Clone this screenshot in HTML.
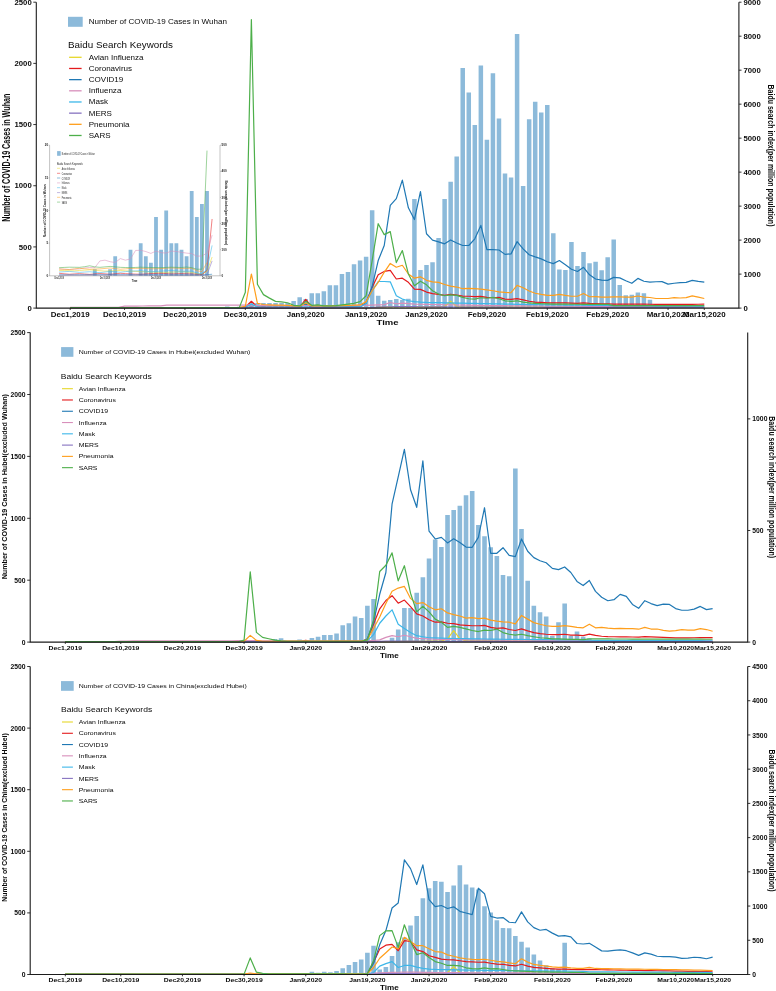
<!DOCTYPE html>
<html lang="en"><head><meta charset="utf-8"><title>Baidu search index and COVID-19 cases</title>
<style>
html,body{margin:0;padding:0;background:#fff;}
body{width:776px;height:991px;overflow:hidden;}
svg{display:block;font-family:"Liberation Sans",Arial,sans-serif;}
</style></head><body>
<svg width="776" height="991" viewBox="0 0 776 991">
<rect width="776" height="991" fill="#fff"/>
<path d="M110.22 308.10v-0.12h4.50v0.12zM128.34 308.10v-0.12h4.50v0.12zM134.38 308.10v-0.37h4.50v0.37zM152.50 308.10v-0.49h4.50v0.49zM164.57 308.10v-0.61h4.50v0.61zM170.61 308.10v-0.37h4.50v0.37zM176.65 308.10v-0.24h4.50v0.24zM182.69 308.10v-1.10h4.50v1.10zM188.73 308.10v-0.49h4.50v0.49zM194.77 308.10v-1.22h4.50v1.22zM200.81 308.10v-0.61h4.50v0.61zM206.85 308.10v-0.61h4.50v0.61zM212.89 308.10v-0.49h4.50v0.49zM218.93 308.10v-0.37h4.50v0.37zM224.96 308.10v-1.59h4.50v1.59zM231.00 308.10v-1.10h4.50v1.10zM237.04 308.10v-1.35h4.50v1.35zM243.08 308.10v-1.59h4.50v1.59zM249.12 308.10v-5.00h4.50v5.00zM255.16 308.10v-5.10h4.50v5.10zM261.20 308.10v-5.10h4.50v5.10zM267.24 308.10v-5.10h4.50v5.10zM273.28 308.10v-5.10h4.50v5.10zM279.31 308.10v-5.10h4.50v5.10zM285.35 308.10v-5.10h4.50v5.10zM291.39 308.10v-7.10h4.50v7.10zM297.43 308.10v-10.90h4.50v10.90zM303.47 308.10v-9.00h4.50v9.00zM309.51 308.10v-14.80h4.50v14.80zM315.55 308.10v-14.80h4.50v14.80zM321.59 308.10v-16.90h4.50v16.90zM327.63 308.10v-22.80h4.50v22.80zM333.67 308.10v-22.80h4.50v22.80zM339.70 308.10v-34.20h4.50v34.20zM345.74 308.10v-36.00h4.50v36.00zM351.78 308.10v-43.90h4.50v43.90zM357.82 308.10v-47.60h4.50v47.60zM363.86 308.10v-51.40h4.50v51.40zM369.90 308.10v-97.80h4.50v97.80zM375.94 308.10v-12.30h4.50v12.30zM381.98 308.10v-7.30h4.50v7.30zM388.02 308.10v-8.20h4.50v8.20zM394.06 308.10v-9.00h4.50v9.00zM400.09 308.10v-8.00h4.50v8.00zM406.13 308.10v-9.30h4.50v9.30zM412.17 308.10v-109.00h4.50v109.00zM418.21 308.10v-38.10h4.50v38.10zM424.25 308.10v-43.20h4.50v43.20zM430.29 308.10v-45.90h4.50v45.90zM436.33 308.10v-70.10h4.50v70.10zM442.37 308.10v-109.00h4.50v109.00zM448.41 308.10v-126.30h4.50v126.30zM454.45 308.10v-151.70h4.50v151.70zM460.48 308.10v-240.00h4.50v240.00zM466.52 308.10v-215.70h4.50v215.70zM472.56 308.10v-183.10h4.50v183.10zM478.60 308.10v-242.50h4.50v242.50zM484.64 308.10v-168.30h4.50v168.30zM490.68 308.10v-234.80h4.50v234.80zM496.72 308.10v-189.60h4.50v189.60zM502.76 308.10v-134.70h4.50v134.70zM508.80 308.10v-130.70h4.50v130.70zM514.84 308.10v-274.20h4.50v274.20zM520.88 308.10v-122.10h4.50v122.10zM526.91 308.10v-188.90h4.50v188.90zM532.95 308.10v-206.30h4.50v206.30zM538.99 308.10v-195.50h4.50v195.50zM545.03 308.10v-203.00h4.50v203.00zM551.07 308.10v-74.80h4.50v74.80zM557.11 308.10v-38.60h4.50v38.60zM563.15 308.10v-38.00h4.50v38.00zM569.19 308.10v-66.00h4.50v66.00zM575.23 308.10v-42.20h4.50v42.20zM581.26 308.10v-56.20h4.50v56.20zM587.30 308.10v-44.80h4.50v44.80zM593.34 308.10v-46.30h4.50v46.30zM599.38 308.10v-37.90h4.50v37.90zM605.42 308.10v-50.90h4.50v50.90zM611.46 308.10v-68.70h4.50v68.70zM617.50 308.10v-23.00h4.50v23.00zM623.54 308.10v-12.90h4.50v12.90zM629.58 308.10v-13.30h4.50v13.30zM635.62 308.10v-15.50h4.50v15.50zM641.65 308.10v-14.80h4.50v14.80zM647.69 308.10v-8.40h4.50v8.40zM653.73 308.10v-4.20h4.50v4.20zM659.77 308.10v-2.60h4.50v2.60z" fill="#8CBADA"/>
<polyline points="70.20,307.70 76.24,307.70 82.28,307.70 88.32,307.70 94.36,307.70 100.40,307.70 106.43,307.70 112.47,307.70 118.51,307.70 124.55,307.70 130.59,307.70 136.63,307.70 142.67,307.70 148.71,307.70 154.75,307.70 160.78,307.70 166.82,307.70 172.86,307.70 178.90,307.70 184.94,307.70 190.98,307.70 197.02,307.70 203.06,307.70 209.10,307.70 215.14,307.70 221.18,307.70 227.21,307.70 233.25,307.70 239.29,307.70 245.33,307.70 251.37,307.20 257.41,307.70 263.45,307.69 269.49,307.69 275.53,307.68 281.56,307.68 287.60,307.67 293.64,307.67 299.68,307.66 305.72,307.66 311.76,307.65 317.80,307.65 323.84,307.64 329.88,307.64 335.92,307.63 341.95,307.63 347.99,307.62 354.03,307.62 360.07,307.61 366.11,307.61 372.15,307.60 378.19,307.37 384.23,307.13 390.27,306.90 396.31,306.90 402.34,306.90 408.38,306.90 414.42,306.90 420.46,306.90 426.50,306.90 432.54,306.90 438.58,306.90 444.62,306.50 450.66,301.28 456.70,306.50 462.73,307.00 468.77,307.01 474.81,307.02 480.85,307.02 486.89,307.03 492.93,307.04 498.97,307.05 505.01,307.05 511.05,307.06 517.09,307.07 523.12,307.08 529.16,307.08 535.20,307.09 541.24,307.10 547.28,307.11 553.32,307.11 559.36,307.12 565.40,307.13 571.44,307.14 577.48,307.14 583.51,307.15 589.55,307.16 595.59,307.17 601.63,307.17 607.67,307.18 613.71,307.19 619.75,307.20 625.79,307.20 631.83,307.21 637.87,307.22 643.90,307.23 649.94,307.23 655.98,307.24 662.02,307.25 668.06,307.25 674.10,307.26 680.14,307.27 686.18,307.28 692.22,307.29 698.26,307.29 704.29,307.30" fill="none" stroke="#E6D72A" stroke-width="1.2" stroke-linejoin="round"/>
<polyline points="70.20,307.80 76.24,307.80 82.28,307.79 88.32,307.79 94.36,307.79 100.40,307.78 106.43,307.78 112.47,307.78 118.51,307.77 124.55,307.77 130.59,307.76 136.63,307.76 142.67,307.76 148.71,307.75 154.75,307.75 160.78,307.75 166.82,307.74 172.86,307.74 178.90,307.74 184.94,307.73 190.98,307.73 197.02,307.73 203.06,307.72 209.10,307.72 215.14,307.71 221.18,307.71 227.21,307.71 233.25,307.70 239.29,307.70 245.33,307.17 251.37,301.26 257.41,306.94 263.45,306.97 269.49,307.01 275.53,307.04 281.56,307.07 287.60,307.11 293.64,307.14 299.68,307.17 305.72,299.28 311.76,306.94 317.80,307.10 323.84,307.01 329.88,306.93 335.92,306.84 341.95,306.76 347.99,306.67 354.03,306.59 360.07,306.50 366.11,302.45 372.15,287.38 378.19,274.81 384.23,271.46 390.27,270.29 396.31,279.00 402.34,278.16 408.38,282.35 414.42,289.05 420.46,289.39 426.50,292.07 432.54,293.57 438.58,294.41 444.62,295.42 450.66,294.41 456.70,295.08 462.73,296.09 468.77,296.26 474.81,296.59 480.85,296.42 486.89,297.43 492.93,297.76 498.97,297.43 505.01,299.10 511.05,299.44 517.09,298.60 523.12,299.94 529.16,301.28 535.20,302.12 541.24,302.45 547.28,302.79 553.32,302.96 559.36,302.79 565.40,302.96 571.44,303.12 577.48,303.29 583.51,302.79 589.55,303.46 595.59,303.63 601.63,303.79 607.67,303.79 613.71,304.05 619.75,304.08 625.79,304.11 631.83,304.15 637.87,304.18 643.90,304.21 649.94,304.25 655.98,304.28 662.02,304.31 668.06,304.35 674.10,304.38 680.14,304.35 686.18,304.31 692.22,304.28 698.26,304.25 704.29,304.21" fill="none" stroke="#E41A1C" stroke-width="1.2" stroke-linejoin="round"/>
<polyline points="70.20,307.90 76.24,307.90 82.28,307.89 88.32,307.89 94.36,307.89 100.40,307.89 106.43,307.88 112.47,307.88 118.51,307.88 124.55,307.88 130.59,307.87 136.63,307.87 142.67,307.87 148.71,307.86 154.75,307.86 160.78,307.86 166.82,307.86 172.86,307.85 178.90,307.85 184.94,307.85 190.98,307.85 197.02,307.84 203.06,307.84 209.10,307.84 215.14,307.84 221.18,307.83 227.21,307.83 233.25,307.83 239.29,307.82 245.33,307.82 251.37,307.82 257.41,307.82 263.45,307.81 269.49,307.81 275.53,307.81 281.56,307.81 287.60,307.80 293.64,307.80 299.68,307.40 305.72,303.92 311.76,307.40 317.80,307.50 323.84,307.47 329.88,307.43 335.92,307.40 341.95,307.37 347.99,307.33 354.03,307.30 360.07,306.60 366.11,303.29 372.15,286.54 378.19,260.57 384.23,245.49 390.27,205.29 396.31,198.58 402.34,180.16 408.38,207.80 414.42,219.53 420.46,191.55 426.50,233.77 432.54,240.13 438.58,241.81 444.62,243.82 450.66,239.96 456.70,242.98 462.73,245.49 468.77,245.49 474.81,238.79 480.85,225.39 486.89,249.68 492.93,249.68 498.97,250.02 505.01,254.37 511.05,253.87 517.09,241.64 523.12,248.84 529.16,254.71 535.20,256.89 541.24,258.90 547.28,261.74 553.32,263.59 559.36,260.57 565.40,264.76 571.44,269.28 577.48,271.46 583.51,267.27 589.55,274.81 595.59,279.00 601.63,280.17 607.67,280.34 613.71,277.41 619.75,277.91 625.79,280.76 631.83,283.27 637.87,278.41 643.90,281.26 649.94,282.10 655.98,281.76 662.02,281.60 668.06,284.11 674.10,283.27 680.14,282.60 686.18,282.43 692.22,280.42 698.26,281.43 704.29,282.10" fill="none" stroke="#1F78B4" stroke-width="1.2" stroke-linejoin="round"/>
<polyline points="70.20,307.40 76.24,307.39 82.28,307.38 88.32,307.36 94.36,307.35 100.40,307.34 106.43,307.33 112.47,307.31 118.51,307.30 124.55,306.10 130.59,306.07 136.63,306.03 142.67,306.00 148.71,305.97 154.75,305.93 160.78,305.90 166.82,305.10 172.86,305.10 178.90,305.10 184.94,305.10 190.98,305.10 197.02,305.10 203.06,305.10 209.10,305.10 215.14,305.10 221.18,305.10 227.21,305.10 233.25,305.10 239.29,305.10 245.33,305.10 251.37,304.90 257.41,305.60 263.45,305.60 269.49,305.60 275.53,305.60 281.56,305.60 287.60,305.60 293.64,305.60 299.68,305.60 305.72,305.60 311.76,305.60 317.80,305.60 323.84,305.60 329.88,305.60 335.92,305.60 341.95,305.60 347.99,305.60 354.03,305.60 360.07,305.60 366.11,305.30 372.15,305.07 378.19,304.83 384.23,304.60 390.27,302.50 396.31,303.90 402.34,303.10 408.38,303.70 414.42,304.10 420.46,304.23 426.50,304.37 432.54,304.50 438.58,304.62 444.62,304.74 450.66,304.86 456.70,304.98 462.73,305.10 468.77,305.20 474.81,305.30 480.85,305.40 486.89,305.50 492.93,305.60 498.97,305.65 505.01,305.70 511.05,305.75 517.09,305.80 523.12,305.85 529.16,305.90 535.20,305.95 541.24,306.00 547.28,306.05 553.32,306.10 559.36,306.14 565.40,306.18 571.44,306.22 577.48,306.26 583.51,306.30 589.55,306.34 595.59,306.38 601.63,306.42 607.67,306.46 613.71,306.50 619.75,306.51 625.79,306.53 631.83,306.54 637.87,306.55 643.90,306.57 649.94,306.58 655.98,306.59 662.02,306.61 668.06,306.62 674.10,306.63 680.14,306.65 686.18,306.66 692.22,306.67 698.26,306.69 704.29,306.70" fill="none" stroke="#D88FBB" stroke-width="1.2" stroke-linejoin="round"/>
<polyline points="70.20,307.70 76.24,307.70 82.28,307.69 88.32,307.69 94.36,307.69 100.40,307.68 106.43,307.68 112.47,307.68 118.51,307.67 124.55,307.67 130.59,307.66 136.63,307.66 142.67,307.66 148.71,307.65 154.75,307.65 160.78,307.65 166.82,307.64 172.86,307.64 178.90,307.64 184.94,307.63 190.98,307.63 197.02,307.62 203.06,307.62 209.10,307.62 215.14,307.61 221.18,307.61 227.21,307.61 233.25,307.60 239.29,307.60 245.33,307.40 251.37,304.16 257.41,306.94 263.45,307.20 269.49,307.18 275.53,307.16 281.56,307.14 287.60,307.12 293.64,307.11 299.68,307.09 305.72,307.07 311.76,307.05 317.80,307.03 323.84,307.01 329.88,306.99 335.92,306.98 341.95,306.96 347.99,306.94 354.03,306.92 360.07,306.90 366.11,303.29 372.15,290.73 378.19,281.51 384.23,281.51 390.27,281.85 396.31,295.75 402.34,299.10 408.38,300.78 414.42,301.62 420.46,302.12 426.50,302.45 432.54,302.57 438.58,302.68 444.62,302.79 450.66,302.91 456.70,303.04 462.73,303.17 468.77,303.29 474.81,303.42 480.85,303.54 486.89,303.67 492.93,303.79 498.97,303.93 505.01,304.06 511.05,304.20 517.09,304.33 523.12,304.46 529.16,304.57 535.20,304.67 541.24,304.77 547.28,304.87 553.32,304.97 559.36,305.02 565.40,305.08 571.44,305.13 577.48,305.19 583.51,305.25 589.55,305.30 595.59,305.36 601.63,305.41 607.67,305.47 613.71,305.89 619.75,305.91 625.79,305.93 631.83,305.96 637.87,305.98 643.90,306.00 649.94,306.02 655.98,306.04 662.02,306.07 668.06,306.09 674.10,306.11 680.14,306.13 686.18,306.16 692.22,306.18 698.26,306.20 704.29,306.22" fill="none" stroke="#3DB7E9" stroke-width="1.2" stroke-linejoin="round"/>
<polyline points="70.20,307.90 76.24,307.90 82.28,307.90 88.32,307.90 94.36,307.90 100.40,307.90 106.43,307.90 112.47,307.90 118.51,307.90 124.55,307.90 130.59,307.90 136.63,307.90 142.67,307.90 148.71,307.90 154.75,307.90 160.78,307.90 166.82,307.90 172.86,307.90 178.90,307.90 184.94,307.90 190.98,307.90 197.02,307.90 203.06,307.90 209.10,307.90 215.14,307.90 221.18,307.90 227.21,307.90 233.25,307.90 239.29,307.90 245.33,307.90 251.37,306.90 257.41,307.80 263.45,307.80 269.49,307.80 275.53,307.80 281.56,307.80 287.60,307.80 293.64,307.80 299.68,307.80 305.72,307.80 311.76,307.80 317.80,307.80 323.84,307.80 329.88,307.80 335.92,307.80 341.95,307.80 347.99,307.80 354.03,307.80 360.07,307.80 366.11,307.80 372.15,307.50 378.19,307.20 384.23,306.90 390.27,306.77 396.31,306.63 402.34,306.50 408.38,306.58 414.42,306.66 420.46,306.74 426.50,306.82 432.54,306.90 438.58,306.93 444.62,306.96 450.66,306.99 456.70,307.02 462.73,307.05 468.77,307.08 474.81,307.11 480.85,307.14 486.89,307.17 492.93,307.20 498.97,307.21 505.01,307.22 511.05,307.23 517.09,307.23 523.12,307.24 529.16,307.25 535.20,307.26 541.24,307.27 547.28,307.28 553.32,307.29 559.36,307.29 565.40,307.30 571.44,307.31 577.48,307.32 583.51,307.33 589.55,307.34 595.59,307.35 601.63,307.35 607.67,307.36 613.71,307.37 619.75,307.38 625.79,307.39 631.83,307.40 637.87,307.41 643.90,307.41 649.94,307.42 655.98,307.43 662.02,307.44 668.06,307.45 674.10,307.46 680.14,307.47 686.18,307.47 692.22,307.48 698.26,307.49 704.29,307.50" fill="none" stroke="#8672C0" stroke-width="1.2" stroke-linejoin="round"/>
<polyline points="70.20,307.60 76.24,307.60 82.28,307.59 88.32,307.59 94.36,307.59 100.40,307.58 106.43,307.58 112.47,307.58 118.51,307.57 124.55,307.57 130.59,307.56 136.63,307.56 142.67,307.56 148.71,307.55 154.75,307.55 160.78,307.55 166.82,307.54 172.86,307.54 178.90,307.54 184.94,307.53 190.98,307.53 197.02,307.53 203.06,307.52 209.10,307.52 215.14,307.51 221.18,307.51 227.21,307.51 233.25,307.50 239.29,307.50 245.33,306.24 251.37,273.99 257.41,303.34 263.45,304.50 269.49,304.85 275.53,305.08 281.56,305.08 287.60,305.32 293.64,305.78 299.68,306.24 305.72,303.00 311.76,306.01 317.80,305.78 323.84,305.90 329.88,305.80 335.92,305.70 341.95,305.60 347.99,305.50 354.03,305.10 360.07,304.97 366.11,301.62 372.15,290.73 378.19,282.35 384.23,272.30 390.27,263.42 396.31,267.27 402.34,265.26 408.38,273.97 414.42,278.16 420.46,276.82 426.50,280.34 432.54,281.85 438.58,282.35 444.62,284.53 450.66,286.20 456.70,287.04 462.73,288.72 468.77,288.38 474.81,288.72 480.85,289.05 486.89,289.89 492.93,290.73 498.97,291.90 505.01,292.40 511.05,292.74 517.09,285.37 523.12,287.71 529.16,291.06 535.20,293.24 541.24,294.41 547.28,295.42 553.32,295.42 559.36,294.41 565.40,295.42 571.44,296.26 577.48,296.26 583.51,293.57 589.55,296.76 595.59,296.67 601.63,297.18 607.67,297.18 613.71,296.84 619.75,296.84 625.79,297.18 631.83,297.18 637.87,296.00 643.90,297.18 649.94,297.51 655.98,298.52 662.02,298.52 668.06,298.52 674.10,297.68 680.14,298.01 686.18,297.68 692.22,295.84 698.26,297.18 704.29,298.52" fill="none" stroke="#FF9E1B" stroke-width="1.2" stroke-linejoin="round"/>
<polyline points="70.20,307.50 76.24,307.50 82.28,307.50 88.32,307.50 94.36,307.50 100.40,307.50 106.43,307.50 112.47,307.50 118.51,307.50 124.55,307.50 130.59,307.50 136.63,307.50 142.67,307.50 148.71,307.50 154.75,307.50 160.78,307.50 166.82,307.50 172.86,307.50 178.90,307.50 184.94,307.50 190.98,307.50 197.02,307.50 203.06,307.50 209.10,307.50 215.14,307.50 221.18,307.50 227.21,307.50 233.25,307.50 239.29,307.64 245.33,292.32 251.37,19.50 257.41,284.20 263.45,294.64 269.49,298.12 275.53,301.37 281.56,301.84 287.60,302.76 293.64,305.32 299.68,305.90 305.72,301.37 311.76,305.32 317.80,304.85 323.84,305.80 329.88,305.80 335.92,305.60 341.95,304.90 347.99,304.10 354.03,303.29 360.07,301.62 366.11,295.75 372.15,260.57 378.19,223.71 384.23,234.60 390.27,231.59 396.31,262.58 402.34,250.52 408.38,273.97 414.42,285.70 420.46,281.18 426.50,284.86 432.54,290.73 438.58,294.08 444.62,295.75 450.66,294.92 456.70,295.42 462.73,297.43 468.77,298.77 474.81,299.10 480.85,297.76 486.89,298.27 492.93,297.43 498.97,298.77 505.01,300.78 511.05,301.28 517.09,300.78 523.12,302.12 529.16,302.79 535.20,303.29 541.24,303.63 547.28,303.79 553.32,304.13 559.36,304.16 565.40,304.20 571.44,304.23 577.48,304.26 583.51,304.30 589.55,304.34 595.59,304.38 601.63,304.42 607.67,304.46 613.71,305.55 619.75,305.56 625.79,305.58 631.83,305.59 637.87,305.60 643.90,305.61 649.94,305.62 655.98,305.63 662.02,305.64 668.06,305.65 674.10,305.67 680.14,305.68 686.18,305.69 692.22,305.70 698.26,305.71 704.29,305.72" fill="none" stroke="#4DAF4A" stroke-width="1.2" stroke-linejoin="round"/>
<path d="M36.3 2.2V308.1H738.9V2.2" fill="none" stroke="#1c1c1c" stroke-width="1.1"/>
<text transform="translate(31.70,310.76) scale(0.11769,0.1)" font-size="66.0" text-anchor="end" font-weight="bold" fill="#0a0a0a">0</text>
<text transform="translate(31.70,249.58) scale(0.11769,0.1)" font-size="66.0" text-anchor="end" font-weight="bold" fill="#0a0a0a">500</text>
<text transform="translate(31.70,188.40) scale(0.11769,0.1)" font-size="66.0" text-anchor="end" font-weight="bold" fill="#0a0a0a">1000</text>
<text transform="translate(31.70,127.22) scale(0.11769,0.1)" font-size="66.0" text-anchor="end" font-weight="bold" fill="#0a0a0a">1500</text>
<text transform="translate(31.70,66.04) scale(0.11769,0.1)" font-size="66.0" text-anchor="end" font-weight="bold" fill="#0a0a0a">2000</text>
<text transform="translate(31.70,4.86) scale(0.11769,0.1)" font-size="66.0" text-anchor="end" font-weight="bold" fill="#0a0a0a">2500</text>
<text transform="translate(743.50,310.76) scale(0.11769,0.1)" font-size="66.0" text-anchor="start" font-weight="bold" fill="#0a0a0a">0</text>
<text transform="translate(743.50,276.77) scale(0.11769,0.1)" font-size="66.0" text-anchor="start" font-weight="bold" fill="#0a0a0a">1000</text>
<text transform="translate(743.50,242.79) scale(0.11769,0.1)" font-size="66.0" text-anchor="start" font-weight="bold" fill="#0a0a0a">2000</text>
<text transform="translate(743.50,208.80) scale(0.11769,0.1)" font-size="66.0" text-anchor="start" font-weight="bold" fill="#0a0a0a">3000</text>
<text transform="translate(743.50,174.81) scale(0.11769,0.1)" font-size="66.0" text-anchor="start" font-weight="bold" fill="#0a0a0a">4000</text>
<text transform="translate(743.50,140.82) scale(0.11769,0.1)" font-size="66.0" text-anchor="start" font-weight="bold" fill="#0a0a0a">5000</text>
<text transform="translate(743.50,106.83) scale(0.11769,0.1)" font-size="66.0" text-anchor="start" font-weight="bold" fill="#0a0a0a">6000</text>
<text transform="translate(743.50,72.84) scale(0.11769,0.1)" font-size="66.0" text-anchor="start" font-weight="bold" fill="#0a0a0a">7000</text>
<text transform="translate(743.50,38.85) scale(0.11769,0.1)" font-size="66.0" text-anchor="start" font-weight="bold" fill="#0a0a0a">8000</text>
<text transform="translate(743.50,4.86) scale(0.11769,0.1)" font-size="66.0" text-anchor="start" font-weight="bold" fill="#0a0a0a">9000</text>
<text transform="translate(70.20,316.63) scale(0.12200,0.1)" font-size="65.0" text-anchor="middle" font-weight="bold" fill="#0a0a0a">Dec1,2019</text>
<text transform="translate(124.55,316.63) scale(0.12200,0.1)" font-size="65.0" text-anchor="middle" font-weight="bold" fill="#0a0a0a">Dec10,2019</text>
<text transform="translate(184.94,316.63) scale(0.12200,0.1)" font-size="65.0" text-anchor="middle" font-weight="bold" fill="#0a0a0a">Dec20,2019</text>
<text transform="translate(245.33,316.63) scale(0.12200,0.1)" font-size="65.0" text-anchor="middle" font-weight="bold" fill="#0a0a0a">Dec30,2019</text>
<text transform="translate(305.72,316.63) scale(0.12200,0.1)" font-size="65.0" text-anchor="middle" font-weight="bold" fill="#0a0a0a">Jan9,2020</text>
<text transform="translate(366.11,316.63) scale(0.12200,0.1)" font-size="65.0" text-anchor="middle" font-weight="bold" fill="#0a0a0a">Jan19,2020</text>
<text transform="translate(426.50,316.63) scale(0.12200,0.1)" font-size="65.0" text-anchor="middle" font-weight="bold" fill="#0a0a0a">Jan29,2020</text>
<text transform="translate(486.89,316.63) scale(0.12200,0.1)" font-size="65.0" text-anchor="middle" font-weight="bold" fill="#0a0a0a">Feb9,2020</text>
<text transform="translate(547.28,316.63) scale(0.12200,0.1)" font-size="65.0" text-anchor="middle" font-weight="bold" fill="#0a0a0a">Feb19,2020</text>
<text transform="translate(607.67,316.63) scale(0.12200,0.1)" font-size="65.0" text-anchor="middle" font-weight="bold" fill="#0a0a0a">Feb29,2020</text>
<text transform="translate(668.06,316.63) scale(0.12200,0.1)" font-size="65.0" text-anchor="middle" font-weight="bold" fill="#0a0a0a">Mar10,2020</text>
<text transform="translate(704.29,316.63) scale(0.12200,0.1)" font-size="65.0" text-anchor="middle" font-weight="bold" fill="#0a0a0a">Mar15,2020</text>
<path d="M33.3 308.10H36.3M33.3 246.92H36.3M33.3 185.74H36.3M33.3 124.56H36.3M33.3 63.38H36.3M33.3 2.20H36.3M738.9 308.10h2.6M738.9 274.11h2.6M738.9 240.12h2.6M738.9 206.13h2.6M738.9 172.14h2.6M738.9 138.16h2.6M738.9 104.17h2.6M738.9 70.18h2.6M738.9 36.19h2.6M738.9 2.20h2.6M70.20 308.1v1.8M124.55 308.1v1.8M184.94 308.1v1.8M245.33 308.1v1.8M305.72 308.1v1.8M366.11 308.1v1.8M426.50 308.1v1.8M486.89 308.1v1.8M547.28 308.1v1.8M607.67 308.1v1.8M668.06 308.1v1.8M704.29 308.1v1.8" fill="none" stroke="#1c1c1c" stroke-width="0.9"/>
<text transform="translate(387.60,324.52) scale(0.12499,0.1)" font-size="76.0" text-anchor="middle" font-weight="bold" fill="#0a0a0a">Time</text>
<rect x="68" y="16.8" width="14.70" height="10.00" fill="#8CBADA"/>
<text transform="translate(88.70,24.36) scale(0.12232,0.1)" font-size="66.0" text-anchor="start" fill="#0a0a0a">Number of COVID-19 Cases in Wuhan</text>
<text transform="translate(68.00,48.21) scale(0.11734,0.1)" font-size="84.0" text-anchor="start" fill="#0a0a0a">Baidu Search Keywords</text>
<path d="M69.1 57.30H81.6" stroke="#E6D72A" stroke-width="1.3"/>
<text transform="translate(88.70,59.66) scale(0.12200,0.1)" font-size="66.0" text-anchor="start" fill="#0a0a0a">Avian Influenza</text>
<path d="M69.1 68.47H81.6" stroke="#E41A1C" stroke-width="1.3"/>
<text transform="translate(88.70,70.83) scale(0.12200,0.1)" font-size="66.0" text-anchor="start" fill="#0a0a0a">Coronavirus</text>
<path d="M69.1 79.64H81.6" stroke="#1F78B4" stroke-width="1.3"/>
<text transform="translate(88.70,82.00) scale(0.12200,0.1)" font-size="66.0" text-anchor="start" fill="#0a0a0a">COVID19</text>
<path d="M69.1 90.81H81.6" stroke="#D88FBB" stroke-width="1.3"/>
<text transform="translate(88.70,93.17) scale(0.12200,0.1)" font-size="66.0" text-anchor="start" fill="#0a0a0a">Influenza</text>
<path d="M69.1 101.98H81.6" stroke="#3DB7E9" stroke-width="1.3"/>
<text transform="translate(88.70,104.34) scale(0.12200,0.1)" font-size="66.0" text-anchor="start" fill="#0a0a0a">Mask</text>
<path d="M69.1 113.15H81.6" stroke="#8672C0" stroke-width="1.3"/>
<text transform="translate(88.70,115.51) scale(0.12200,0.1)" font-size="66.0" text-anchor="start" fill="#0a0a0a">MERS</text>
<path d="M69.1 124.32H81.6" stroke="#FF9E1B" stroke-width="1.3"/>
<text transform="translate(88.70,126.68) scale(0.12200,0.1)" font-size="66.0" text-anchor="start" fill="#0a0a0a">Pneumonia</text>
<path d="M69.1 135.49H81.6" stroke="#4DAF4A" stroke-width="1.3"/>
<text transform="translate(88.70,137.85) scale(0.12200,0.1)" font-size="66.0" text-anchor="start" fill="#0a0a0a">SARS</text>
<text transform="translate(5.80,157.70) rotate(-90) scale(0.07976,0.12200) translate(0,32.220)" font-size="90.0" text-anchor="middle" font-weight="bold" fill="#0a0a0a">Number of COVID-19 Cases in Wuhan</text>
<text transform="translate(770.60,155.50) rotate(90) scale(0.10024,0.12200) translate(0,25.060)" font-size="70.0" text-anchor="middle" font-weight="bold" fill="#0a0a0a">Baidu search index(per million population)</text>
<path d="M92.90 275.80v-6.53h3.80v6.53zM108.20 275.80v-6.53h3.80v6.53zM113.30 275.80v-19.59h3.80v19.59zM128.60 275.80v-26.12h3.80v26.12zM138.80 275.80v-32.65h3.80v32.65zM143.90 275.80v-19.59h3.80v19.59zM149.00 275.80v-13.06h3.80v13.06zM154.10 275.80v-58.77h3.80v58.77zM159.20 275.80v-26.12h3.80v26.12zM164.30 275.80v-65.30h3.80v65.30zM169.40 275.80v-32.65h3.80v32.65zM174.50 275.80v-32.65h3.80v32.65zM179.60 275.80v-26.12h3.80v26.12zM184.70 275.80v-19.59h3.80v19.59zM189.80 275.80v-84.89h3.80v84.89zM194.90 275.80v-58.77h3.80v58.77zM200.00 275.80v-71.83h3.80v71.83zM205.10 275.80v-84.89h3.80v84.89z" fill="#8CBADA"/>
<clipPath id="ic"><rect x="49.6" y="144.89999999999998" width="170.4" height="131.20000000000002"/></clipPath>
<g clip-path="url(#ic)">
<polyline points="59.10,270.48 64.20,270.58 69.30,270.69 74.40,270.79 79.50,270.48 84.60,270.17 89.70,269.85 94.80,270.27 99.90,270.69 105.00,271.11 110.10,270.90 115.20,270.69 120.30,270.48 125.40,270.79 130.50,271.11 135.60,271.42 140.70,271.63 145.80,271.84 150.90,272.04 156.00,272.15 161.10,272.25 166.20,272.36 171.30,272.15 176.40,271.94 181.50,271.73 186.60,272.04 191.70,272.36 196.80,273.61 201.90,274.24 207.00,271.42 212.10,257.02" fill="none" stroke="#E6D72A" stroke-width="0.55" stroke-linejoin="round"/>
<polyline points="59.10,273.30 64.20,273.77 69.30,274.24 74.40,273.92 79.50,273.61 84.60,274.00 89.70,274.39 94.80,273.92 99.90,273.45 105.00,273.84 110.10,274.24 115.20,273.77 120.30,273.30 125.40,273.61 130.50,273.92 135.60,274.08 140.70,274.24 145.80,273.92 150.90,273.61 156.00,273.45 161.10,273.30 166.20,273.61 171.30,273.92 176.40,273.77 181.50,273.61 186.60,273.77 191.70,273.92 196.80,274.24 201.90,274.55 207.00,270.32 212.10,218.99" fill="none" stroke="#E41A1C" stroke-width="0.55" stroke-linejoin="round"/>
<polyline points="59.10,274.86 64.20,274.85 69.30,274.83 74.40,274.81 79.50,274.80 84.60,274.78 89.70,274.77 94.80,274.75 99.90,274.74 105.00,274.72 110.10,274.70 115.20,274.72 120.30,274.74 125.40,274.75 130.50,274.77 135.60,274.78 140.70,274.80 145.80,274.81 150.90,274.83 156.00,274.85 161.10,274.86 166.20,274.88 171.30,274.90 176.40,274.92 181.50,274.94 186.60,274.96 191.70,274.98 196.80,275.00 201.90,275.02 207.00,274.70 212.10,274.24" fill="none" stroke="#1F78B4" stroke-width="0.55" stroke-linejoin="round"/>
<polyline points="59.10,268.76 64.20,269.23 69.30,269.54 74.40,269.23 79.50,268.91 84.60,267.98 89.70,267.51 94.80,267.66 99.90,260.93 105.00,260.15 110.10,261.72 115.20,262.50 120.30,258.59 125.40,260.15 130.50,258.90 135.60,250.45 140.70,250.29 145.80,251.54 150.90,253.42 156.00,251.07 161.10,252.64 166.20,253.11 171.30,251.07 176.40,251.54 181.50,252.33 186.60,253.11 191.70,253.58 196.80,256.24 201.90,255.93 207.00,253.11 212.10,235.11" fill="none" stroke="#D88FBB" stroke-width="0.55" stroke-linejoin="round"/>
<polyline points="59.10,272.04 64.20,271.73 69.30,271.42 74.40,271.89 79.50,272.36 84.60,272.04 89.70,271.73 94.80,272.20 99.90,272.67 105.00,272.04 110.10,271.42 115.20,271.81 120.30,272.20 125.40,271.65 130.50,271.11 135.60,270.95 140.70,270.79 145.80,271.26 150.90,271.73 156.00,271.42 161.10,271.11 166.20,270.79 171.30,270.48 176.40,270.95 181.50,271.42 186.60,271.26 191.70,271.11 196.80,272.98 201.90,273.61 207.00,269.54 212.10,245.44" fill="none" stroke="#3DB7E9" stroke-width="0.55" stroke-linejoin="round"/>
<polyline points="59.10,275.17 64.20,275.16 69.30,275.14 74.40,275.13 79.50,275.11 84.60,275.10 89.70,275.08 94.80,275.06 99.90,275.05 105.00,275.03 110.10,275.02 115.20,275.03 120.30,275.05 125.40,275.06 130.50,275.08 135.60,275.10 140.70,275.11 145.80,275.13 150.90,275.14 156.00,275.16 161.10,275.17 166.20,275.17 171.30,275.17 176.40,275.17 181.50,275.17 186.60,275.17 191.70,275.17 196.80,275.17 201.90,275.17 207.00,274.70 212.10,260.93" fill="none" stroke="#8672C0" stroke-width="0.55" stroke-linejoin="round"/>
<polyline points="59.10,269.07 64.20,269.31 69.30,269.54 74.40,268.91 79.50,268.29 84.60,268.76 89.70,269.23 94.80,269.07 99.90,268.91 105.00,268.44 110.10,267.98 115.20,268.60 120.30,269.23 125.40,268.84 130.50,268.44 135.60,268.37 140.70,268.29 145.80,268.52 150.90,268.76 156.00,268.68 161.10,268.60 166.20,268.29 171.30,267.98 176.40,268.21 181.50,268.44 186.60,268.37 191.70,268.29 196.80,270.79 201.90,271.57 207.00,262.50" fill="none" stroke="#FF9E1B" stroke-width="0.55" stroke-linejoin="round"/>
<polyline points="59.10,267.66 64.20,267.43 69.30,267.19 74.40,267.27 79.50,267.35 84.60,266.72 89.70,265.78 94.80,266.88 99.90,267.35 105.00,266.88 110.10,266.41 115.20,266.88 120.30,267.35 125.40,267.51 130.50,267.66 135.60,267.43 140.70,267.19 145.80,267.35 150.90,267.51 156.00,267.58 161.10,267.66 166.20,267.43 171.30,267.19 176.40,267.35 181.50,267.51 186.60,267.04 191.70,267.66 196.80,269.23 201.90,269.23 207.00,150.60" fill="none" stroke="#4DAF4A" stroke-width="0.55" stroke-linejoin="round"/>
</g>
<text transform="translate(48.10,276.97) scale(0.10000,0.1)" font-size="30.0" text-anchor="end" font-weight="bold" fill="#222">0</text>
<text transform="translate(48.10,244.32) scale(0.10000,0.1)" font-size="30.0" text-anchor="end" font-weight="bold" fill="#222">5</text>
<text transform="translate(48.10,211.67) scale(0.10000,0.1)" font-size="30.0" text-anchor="end" font-weight="bold" fill="#222">10</text>
<text transform="translate(48.10,179.02) scale(0.10000,0.1)" font-size="30.0" text-anchor="end" font-weight="bold" fill="#222">15</text>
<text transform="translate(48.10,146.37) scale(0.10000,0.1)" font-size="30.0" text-anchor="end" font-weight="bold" fill="#222">20</text>
<text transform="translate(221.60,276.97) scale(0.10000,0.1)" font-size="30.0" text-anchor="start" font-weight="bold" fill="#222">0</text>
<text transform="translate(221.60,250.85) scale(0.10000,0.1)" font-size="30.0" text-anchor="start" font-weight="bold" fill="#222">100</text>
<text transform="translate(221.60,224.73) scale(0.10000,0.1)" font-size="30.0" text-anchor="start" font-weight="bold" fill="#222">200</text>
<text transform="translate(221.60,198.61) scale(0.10000,0.1)" font-size="30.0" text-anchor="start" font-weight="bold" fill="#222">300</text>
<text transform="translate(221.60,172.49) scale(0.10000,0.1)" font-size="30.0" text-anchor="start" font-weight="bold" fill="#222">400</text>
<text transform="translate(221.60,146.37) scale(0.10000,0.1)" font-size="30.0" text-anchor="start" font-weight="bold" fill="#222">500</text>
<text transform="translate(59.10,278.87) scale(0.07039,0.1)" font-size="27.0" text-anchor="middle" font-weight="bold" fill="#333">Dec1,2019</text>
<text transform="translate(105.00,278.87) scale(0.06729,0.1)" font-size="27.0" text-anchor="middle" font-weight="bold" fill="#333">Dec10,2019</text>
<text transform="translate(156.00,278.87) scale(0.06729,0.1)" font-size="27.0" text-anchor="middle" font-weight="bold" fill="#333">Dec20,2019</text>
<text transform="translate(207.00,278.87) scale(0.06729,0.1)" font-size="27.0" text-anchor="middle" font-weight="bold" fill="#333">Dec30,2019</text>
<path d="M49.6 145.2V275.8H220.0V145.2M48.6 275.80H49.6M48.6 243.15H49.6M48.6 210.50H49.6M48.6 177.85H49.6M48.6 145.20H49.6M220.0 275.80h1M220.0 249.68h1M220.0 223.56h1M220.0 197.44h1M220.0 171.32h1M220.0 145.20h1M59.10 275.8v0.7M105.00 275.8v0.7M156.00 275.8v0.7M207.00 275.8v0.7" fill="none" stroke="#888" stroke-width="0.5"/>
<text transform="translate(134.60,282.30) scale(0.08636,0.1)" font-size="28.0" text-anchor="middle" font-weight="bold" fill="#222">Time</text>
<rect x="57.1" y="151.1" width="3.6" height="4.7" fill="#8CBADA"/>
<text transform="translate(61.80,154.54) scale(0.06693,0.1)" font-size="29.0" text-anchor="start" fill="#222">Number of COVID-19 Cases in Wuhan</text>
<text transform="translate(57.00,164.75) scale(0.06853,0.1)" font-size="35.0" text-anchor="start" fill="#222">Baidu Search Keywords</text>
<path d="M57 168.3H60.2" stroke="#E6D72A" stroke-width="0.5"/>
<text transform="translate(61.80,169.84) scale(0.06600,0.1)" font-size="29.0" text-anchor="start" fill="#222">Avian Influenza</text>
<path d="M57 173.3H60.2" stroke="#E41A1C" stroke-width="0.5"/>
<text transform="translate(61.80,174.84) scale(0.06600,0.1)" font-size="29.0" text-anchor="start" fill="#222">Coronavirus</text>
<path d="M57 178.0H60.2" stroke="#1F78B4" stroke-width="0.5"/>
<text transform="translate(61.80,179.54) scale(0.06600,0.1)" font-size="29.0" text-anchor="start" fill="#222">COVID19</text>
<path d="M57 182.9H60.2" stroke="#D88FBB" stroke-width="0.5"/>
<text transform="translate(61.80,184.44) scale(0.06600,0.1)" font-size="29.0" text-anchor="start" fill="#222">Influenza</text>
<path d="M57 187.7H60.2" stroke="#3DB7E9" stroke-width="0.5"/>
<text transform="translate(61.80,189.24) scale(0.06600,0.1)" font-size="29.0" text-anchor="start" fill="#222">Mask</text>
<path d="M57 192.6H60.2" stroke="#8672C0" stroke-width="0.5"/>
<text transform="translate(61.80,194.14) scale(0.06600,0.1)" font-size="29.0" text-anchor="start" fill="#222">MERS</text>
<path d="M57 197.3H60.2" stroke="#FF9E1B" stroke-width="0.5"/>
<text transform="translate(61.80,198.84) scale(0.06600,0.1)" font-size="29.0" text-anchor="start" fill="#222">Pneumonia</text>
<path d="M57 202.1H60.2" stroke="#4DAF4A" stroke-width="0.5"/>
<text transform="translate(61.80,203.64) scale(0.06600,0.1)" font-size="29.0" text-anchor="start" fill="#222">SARS</text>
<text transform="translate(44.70,210.90) rotate(-90) scale(0.10264,0.10000) translate(0,10.382)" font-size="29.0" text-anchor="middle" font-weight="bold" fill="#222">Number of COVID-19 Cases in Wuhan</text>
<text transform="translate(225.80,212.80) rotate(90) scale(0.11853,0.10000) translate(0,9.666)" font-size="27.0" text-anchor="middle" font-weight="bold" fill="#222">Baidu search index(per million population)</text>
<path d="M272.61 642.10v-3.00h4.60v3.00zM278.77 642.10v-3.90h4.60v3.90zM284.94 642.10v-1.00h4.60v1.00zM291.10 642.10v-1.00h4.60v1.00zM297.27 642.10v-2.70h4.60v2.70zM303.44 642.10v-2.00h4.60v2.00zM309.60 642.10v-4.20h4.60v4.20zM315.76 642.10v-5.40h4.60v5.40zM321.93 642.10v-7.20h4.60v7.20zM328.10 642.10v-7.00h4.60v7.00zM334.26 642.10v-8.70h4.60v8.70zM340.43 642.10v-16.80h4.60v16.80zM346.59 642.10v-18.80h4.60v18.80zM352.75 642.10v-25.50h4.60v25.50zM358.92 642.10v-24.00h4.60v24.00zM365.08 642.10v-36.40h4.60v36.40zM371.25 642.10v-43.00h4.60v43.00zM377.42 642.10v-1.00h4.60v1.00zM383.58 642.10v-1.00h4.60v1.00zM389.75 642.10v-4.30h4.60v4.30zM395.91 642.10v-12.60h4.60v12.60zM402.07 642.10v-34.00h4.60v34.00zM408.24 642.10v-34.00h4.60v34.00zM414.41 642.10v-49.30h4.60v49.30zM420.57 642.10v-64.80h4.60v64.80zM426.74 642.10v-83.60h4.60v83.60zM432.90 642.10v-102.70h4.60v102.70zM439.06 642.10v-95.00h4.60v95.00zM445.23 642.10v-127.00h4.60v127.00zM451.39 642.10v-132.00h4.60v132.00zM457.56 642.10v-136.40h4.60v136.40zM463.73 642.10v-146.80h4.60v146.80zM469.89 642.10v-151.00h4.60v151.00zM476.06 642.10v-117.20h4.60v117.20zM482.22 642.10v-105.80h4.60v105.80zM488.38 642.10v-94.80h4.60v94.80zM494.55 642.10v-86.10h4.60v86.10zM500.71 642.10v-67.10h4.60v67.10zM506.88 642.10v-65.80h4.60v65.80zM513.05 642.10v-173.70h4.60v173.70zM519.21 642.10v-113.00h4.60v113.00zM525.38 642.10v-61.30h4.60v61.30zM531.54 642.10v-36.40h4.60v36.40zM537.71 642.10v-29.80h4.60v29.80zM543.87 642.10v-25.50h4.60v25.50zM550.04 642.10v-6.00h4.60v6.00zM556.20 642.10v-19.90h4.60v19.90zM562.37 642.10v-38.50h4.60v38.50zM568.53 642.10v-6.40h4.60v6.40zM574.70 642.10v-10.60h4.60v10.60zM580.86 642.10v-5.40h4.60v5.40zM587.02 642.10v-3.70h4.60v3.70zM593.19 642.10v-2.00h4.60v2.00zM599.36 642.10v-1.50h4.60v1.50zM605.52 642.10v-1.00h4.60v1.00z" fill="#8CBADA"/>
<polyline points="65.30,641.80 71.47,641.80 77.63,641.80 83.80,641.79 89.96,641.79 96.12,641.79 102.29,641.79 108.45,641.79 114.62,641.78 120.78,641.78 126.95,641.78 133.12,641.78 139.28,641.78 145.44,641.77 151.61,641.77 157.77,641.77 163.94,641.77 170.11,641.77 176.27,641.76 182.44,641.76 188.60,641.76 194.76,641.76 200.93,641.76 207.09,641.75 213.26,641.75 219.43,641.75 225.59,641.75 231.75,641.75 237.92,641.74 244.08,641.74 250.25,641.74 256.42,641.74 262.58,641.74 268.75,641.73 274.91,641.73 281.07,641.73 287.24,641.73 293.40,641.73 299.57,641.72 305.74,641.72 311.90,641.72 318.06,641.72 324.23,641.72 330.40,641.71 336.56,641.71 342.73,641.71 348.89,641.71 355.06,641.71 361.22,641.70 367.38,641.70 373.55,641.70 379.72,641.65 385.88,641.59 392.05,641.54 398.21,641.48 404.38,641.43 410.54,641.37 416.71,641.32 422.87,641.26 429.04,641.21 435.20,641.15 441.37,641.10 447.53,638.79 453.69,630.51 459.86,638.79 466.03,640.90 472.19,640.92 478.36,640.93 484.52,640.95 490.69,640.96 496.85,640.98 503.01,640.99 509.18,641.00 515.35,641.02 521.51,641.03 527.67,641.05 533.84,641.07 540.00,641.08 546.17,641.10 552.34,641.11 558.50,641.12 564.66,641.14 570.83,641.15 577.00,641.17 583.16,641.19 589.32,641.20 595.49,641.22 601.65,641.23 607.82,641.25 613.99,641.26 620.15,641.27 626.31,641.29 632.48,641.31 638.64,641.32 644.81,641.34 650.97,641.35 657.14,641.37 663.30,641.38 669.47,641.39 675.63,641.41 681.80,641.43 687.96,641.44 694.13,641.46 700.29,641.47 706.46,641.49 712.62,641.50" fill="none" stroke="#E6D72A" stroke-width="1.2" stroke-linejoin="round"/>
<polyline points="65.30,641.80 71.47,641.80 77.63,641.80 83.80,641.80 89.96,641.80 96.12,641.80 102.29,641.80 108.45,641.80 114.62,641.80 120.78,641.80 126.95,641.80 133.12,641.80 139.28,641.80 145.44,641.80 151.61,641.80 157.77,641.80 163.94,641.80 170.11,641.80 176.27,641.80 182.44,641.80 188.60,641.80 194.76,641.80 200.93,641.80 207.09,641.80 213.26,641.80 219.43,641.80 225.59,641.80 231.75,641.80 237.92,641.80 244.08,641.80 250.25,640.90 256.42,641.70 262.58,641.70 268.75,641.70 274.91,641.70 281.07,641.70 287.24,641.70 293.40,641.70 299.57,641.70 305.74,640.30 311.90,641.60 318.06,641.56 324.23,641.52 330.40,641.49 336.56,641.45 342.73,641.41 348.89,641.38 355.06,641.34 361.22,641.30 367.38,639.20 373.55,624.29 379.72,608.77 385.88,600.49 392.05,595.72 398.21,603.18 404.38,600.07 410.54,606.70 416.71,613.94 422.87,616.01 429.04,619.74 435.20,622.22 441.37,621.81 447.53,623.26 453.69,623.67 459.86,624.92 466.03,625.33 472.19,625.74 478.36,625.74 484.52,625.33 490.69,627.40 496.85,628.44 503.01,627.81 509.18,629.47 515.35,630.51 521.51,628.85 527.67,630.92 533.84,632.58 540.00,633.61 546.17,634.23 552.34,634.65 558.50,634.65 564.66,634.23 570.83,635.06 577.00,635.06 583.16,635.68 589.32,634.06 595.49,635.40 601.65,636.24 607.82,636.57 613.99,636.74 620.15,636.82 626.31,636.91 632.48,636.99 638.64,637.07 644.81,636.57 650.97,636.84 657.14,637.11 663.30,637.38 669.47,637.64 675.63,637.91 681.80,637.86 687.96,637.80 694.13,637.74 700.29,637.69 706.46,637.63 712.62,637.58" fill="none" stroke="#E41A1C" stroke-width="1.2" stroke-linejoin="round"/>
<polyline points="65.30,641.90 71.47,641.90 77.63,641.90 83.80,641.89 89.96,641.89 96.12,641.89 102.29,641.89 108.45,641.89 114.62,641.88 120.78,641.88 126.95,641.88 133.12,641.88 139.28,641.87 145.44,641.87 151.61,641.87 157.77,641.87 163.94,641.87 170.11,641.86 176.27,641.86 182.44,641.86 188.60,641.86 194.76,641.86 200.93,641.85 207.09,641.85 213.26,641.85 219.43,641.85 225.59,641.84 231.75,641.84 237.92,641.84 244.08,641.84 250.25,641.84 256.42,641.83 262.58,641.83 268.75,641.83 274.91,641.83 281.07,641.83 287.24,641.82 293.40,641.82 299.57,641.82 305.74,641.82 311.90,641.81 318.06,641.81 324.23,641.81 330.40,641.81 336.56,641.81 342.73,641.80 348.89,641.80 355.06,641.80 361.22,641.89 367.38,638.79 373.55,622.22 379.72,594.27 385.88,572.53 392.05,504.21 398.21,476.88 404.38,449.35 410.54,489.72 416.71,507.32 422.87,460.73 429.04,531.13 435.20,538.99 441.37,537.34 447.53,542.93 453.69,538.79 459.86,542.51 466.03,547.07 472.19,547.28 478.36,537.34 484.52,507.73 490.69,553.28 496.85,553.28 503.01,547.69 509.18,555.35 515.35,556.59 521.51,538.99 527.67,551.21 533.84,557.63 540.00,560.73 546.17,562.80 552.34,568.39 558.50,569.64 564.66,566.94 570.83,572.53 577.00,581.44 583.16,585.58 589.32,580.45 595.49,591.34 601.65,597.20 607.82,600.72 613.99,599.71 620.15,594.35 626.31,596.36 632.48,604.41 638.64,608.26 644.81,600.72 650.97,603.57 657.14,605.58 663.30,604.07 669.47,604.41 675.63,608.59 681.80,610.27 687.96,610.27 694.13,609.10 700.29,606.42 706.46,609.60 712.62,608.59" fill="none" stroke="#1F78B4" stroke-width="1.2" stroke-linejoin="round"/>
<polyline points="65.30,641.50 71.47,641.50 77.63,641.50 83.80,641.50 89.96,641.50 96.12,641.50 102.29,641.50 108.45,641.50 114.62,641.50 120.78,641.00 126.95,640.99 133.12,640.97 139.28,640.96 145.44,640.94 151.61,640.93 157.77,640.91 163.94,640.89 170.11,640.88 176.27,640.87 182.44,640.85 188.60,640.84 194.76,640.82 200.93,640.81 207.09,640.79 213.26,640.77 219.43,640.76 225.59,640.75 231.75,640.73 237.92,640.72 244.08,640.70 250.25,640.71 256.42,640.72 262.58,640.73 268.75,640.74 274.91,640.75 281.07,640.76 287.24,640.77 293.40,640.78 299.57,640.79 305.74,640.81 311.90,640.82 318.06,640.83 324.23,640.84 330.40,640.85 336.56,640.86 342.73,640.87 348.89,640.88 355.06,640.89 361.22,640.90 367.38,640.70 373.55,640.50 379.72,639.82 385.88,637.34 392.05,635.68 398.21,636.72 404.38,635.27 410.54,636.72 416.71,638.37 422.87,638.65 429.04,638.93 435.20,639.20 441.37,639.30 447.53,639.41 453.69,639.51 459.86,639.62 466.03,639.72 472.19,639.82 478.36,639.87 484.52,639.91 490.69,639.96 496.85,640.01 503.01,640.05 509.18,640.10 515.35,640.14 521.51,640.19 527.67,640.24 533.84,640.26 540.00,640.28 546.17,640.31 552.34,640.33 558.50,640.35 564.66,640.37 570.83,640.40 577.00,640.42 583.16,640.44 589.32,640.70 595.49,640.72 601.65,640.73 607.82,640.75 613.99,640.76 620.15,640.77 626.31,640.79 632.48,640.81 638.64,640.82 644.81,640.84 650.97,640.85 657.14,640.87 663.30,640.88 669.47,640.89 675.63,640.91 681.80,640.93 687.96,640.94 694.13,640.96 700.29,640.97 706.46,640.99 712.62,641.00" fill="none" stroke="#D88FBB" stroke-width="1.2" stroke-linejoin="round"/>
<polyline points="65.30,641.80 71.47,641.80 77.63,641.79 83.80,641.79 89.96,641.78 96.12,641.78 102.29,641.77 108.45,641.77 114.62,641.77 120.78,641.76 126.95,641.76 133.12,641.75 139.28,641.75 145.44,641.75 151.61,641.74 157.77,641.74 163.94,641.73 170.11,641.73 176.27,641.73 182.44,641.72 188.60,641.72 194.76,641.71 200.93,641.71 207.09,641.70 213.26,641.70 219.43,641.70 225.59,641.69 231.75,641.69 237.92,641.68 244.08,641.68 250.25,641.68 256.42,641.67 262.58,641.67 268.75,641.66 274.91,641.66 281.07,641.65 287.24,641.65 293.40,641.65 299.57,641.64 305.74,641.64 311.90,641.63 318.06,641.63 324.23,641.62 330.40,641.62 336.56,641.62 342.73,641.61 348.89,641.61 355.06,641.60 361.22,641.60 367.38,640.86 373.55,634.65 379.72,623.26 385.88,616.01 392.05,609.80 398.21,624.29 404.38,628.44 410.54,632.58 416.71,635.68 422.87,636.72 429.04,637.75 435.20,637.96 441.37,638.17 447.53,638.37 453.69,638.48 459.86,638.58 466.03,638.68 472.19,638.79 478.36,638.89 484.52,638.99 490.69,639.10 496.85,639.20 503.01,639.26 509.18,639.32 515.35,639.38 521.51,639.44 527.67,639.50 533.84,639.56 540.00,639.62 546.17,639.67 552.34,639.73 558.50,639.79 564.66,639.85 570.83,639.91 577.00,639.97 583.16,640.03 589.32,640.26 595.49,640.28 601.65,640.31 607.82,640.33 613.99,640.36 620.15,640.38 626.31,640.41 632.48,640.43 638.64,640.46 644.81,640.48 650.97,640.51 657.14,640.53 663.30,640.56 669.47,640.58 675.63,640.61 681.80,640.63 687.96,640.66 694.13,640.68 700.29,640.71 706.46,640.73 712.62,640.76" fill="none" stroke="#3DB7E9" stroke-width="1.2" stroke-linejoin="round"/>
<polyline points="65.30,641.90 71.47,641.90 77.63,641.90 83.80,641.90 89.96,641.90 96.12,641.90 102.29,641.90 108.45,641.90 114.62,641.90 120.78,641.90 126.95,641.90 133.12,641.90 139.28,641.90 145.44,641.90 151.61,641.90 157.77,641.90 163.94,641.90 170.11,641.90 176.27,641.90 182.44,641.90 188.60,641.90 194.76,641.90 200.93,641.90 207.09,641.90 213.26,641.90 219.43,641.90 225.59,641.90 231.75,641.90 237.92,641.90 244.08,641.90 250.25,641.90 256.42,641.90 262.58,641.90 268.75,641.90 274.91,641.90 281.07,641.90 287.24,641.90 293.40,641.90 299.57,641.90 305.74,641.90 311.90,641.90 318.06,641.90 324.23,641.90 330.40,641.90 336.56,641.90 342.73,641.90 348.89,641.90 355.06,641.90 361.22,641.90 367.38,641.90 373.55,641.67 379.72,641.43 385.88,641.20 392.05,641.18 398.21,641.15 404.38,641.12 410.54,641.10 416.71,641.18 422.87,641.25 429.04,641.33 435.20,641.40 441.37,641.41 447.53,641.41 453.69,641.42 459.86,641.43 466.03,641.43 472.19,641.44 478.36,641.45 484.52,641.45 490.69,641.46 496.85,641.47 503.01,641.47 509.18,641.48 515.35,641.49 521.51,641.49 527.67,641.50 533.84,641.51 540.00,641.51 546.17,641.52 552.34,641.53 558.50,641.53 564.66,641.54 570.83,641.55 577.00,641.55 583.16,641.56 589.32,641.57 595.49,641.57 601.65,641.58 607.82,641.59 613.99,641.59 620.15,641.60 626.31,641.61 632.48,641.61 638.64,641.62 644.81,641.63 650.97,641.63 657.14,641.64 663.30,641.65 669.47,641.65 675.63,641.66 681.80,641.67 687.96,641.67 694.13,641.68 700.29,641.69 706.46,641.69 712.62,641.70" fill="none" stroke="#8672C0" stroke-width="1.2" stroke-linejoin="round"/>
<polyline points="65.30,641.60 71.47,641.60 77.63,641.60 83.80,641.60 89.96,641.60 96.12,641.60 102.29,641.60 108.45,641.60 114.62,641.60 120.78,641.60 126.95,641.60 133.12,641.60 139.28,641.60 145.44,641.60 151.61,641.60 157.77,641.60 163.94,641.60 170.11,641.60 176.27,641.60 182.44,641.60 188.60,641.60 194.76,641.60 200.93,641.60 207.09,641.60 213.26,641.60 219.43,641.60 225.59,641.60 231.75,641.60 237.92,641.60 244.08,641.26 250.25,635.40 256.42,640.42 262.58,641.26 268.75,641.25 274.91,641.24 281.07,641.23 287.24,641.22 293.40,641.21 299.57,641.20 305.74,641.19 311.90,641.18 318.06,641.17 324.23,641.16 330.40,641.15 336.56,641.14 342.73,641.13 348.89,641.12 355.06,641.11 361.22,641.09 367.38,639.82 373.55,628.44 379.72,617.05 385.88,603.59 392.05,591.17 398.21,588.06 404.38,586.41 410.54,598.41 416.71,603.59 422.87,602.56 429.04,606.70 435.20,609.80 441.37,608.77 447.53,612.91 453.69,614.56 459.86,616.01 466.03,618.08 472.19,617.67 478.36,618.70 484.52,618.08 490.69,620.15 496.85,621.19 503.01,621.81 509.18,622.22 515.35,623.88 521.51,615.39 527.67,619.12 533.84,622.64 540.00,624.29 546.17,625.74 552.34,626.37 558.50,626.37 564.66,625.54 570.83,626.37 577.00,627.40 583.16,627.81 589.32,624.17 595.49,627.86 601.65,627.36 607.82,628.19 613.99,628.53 620.15,628.36 626.31,628.70 632.48,628.70 638.64,629.20 644.81,627.36 650.97,629.03 657.14,629.03 663.30,630.37 669.47,631.21 675.63,630.71 681.80,629.54 687.96,630.04 694.13,630.04 700.29,628.70 706.46,629.54 712.62,631.21" fill="none" stroke="#FF9E1B" stroke-width="1.2" stroke-linejoin="round"/>
<polyline points="65.30,641.60 71.47,641.60 77.63,641.60 83.80,641.60 89.96,641.60 96.12,641.60 102.29,641.60 108.45,641.60 114.62,641.60 120.78,641.60 126.95,641.60 133.12,641.60 139.28,641.60 145.44,641.60 151.61,641.60 157.77,641.60 163.94,641.60 170.11,641.60 176.27,641.60 182.44,641.60 188.60,641.60 194.76,641.60 200.93,641.60 207.09,641.60 213.26,641.60 219.43,641.60 225.59,641.60 231.75,641.60 237.92,641.76 244.08,640.09 250.25,571.74 256.42,632.38 262.58,637.41 268.75,638.75 274.91,640.09 281.07,640.93 287.24,641.26 293.40,641.26 299.57,641.26 305.74,641.26 311.90,641.26 318.06,641.26 324.23,641.26 330.40,641.26 336.56,641.26 342.73,641.26 348.89,641.26 355.06,641.26 361.22,641.26 367.38,639.82 373.55,620.15 379.72,571.50 385.88,565.29 392.05,552.87 398.21,580.82 404.38,565.70 410.54,593.24 416.71,611.87 422.87,606.28 429.04,611.87 435.20,619.12 441.37,622.22 447.53,627.40 453.69,626.37 459.86,627.40 466.03,628.85 472.19,630.51 478.36,631.54 484.52,630.09 490.69,630.51 496.85,629.06 503.01,632.58 509.18,634.23 515.35,635.06 521.51,634.23 527.67,635.68 533.84,636.72 540.00,637.75 546.17,638.17 552.34,638.79 558.50,638.95 564.66,639.12 570.83,639.28 577.00,639.45 583.16,639.62 589.32,638.92 595.49,638.93 601.65,638.95 607.82,638.97 613.99,638.98 620.15,639.00 626.31,639.02 632.48,639.03 638.64,639.05 644.81,639.07 650.97,639.08 657.14,639.10 663.30,639.12 669.47,639.13 675.63,639.15 681.80,639.17 687.96,639.18 694.13,639.20 700.29,639.22 706.46,639.24 712.62,639.25" fill="none" stroke="#4DAF4A" stroke-width="1.2" stroke-linejoin="round"/>
<path d="M30.2 332.6V642.1H747.7V332.6" fill="none" stroke="#1c1c1c" stroke-width="1.1"/>
<text transform="translate(25.60,644.66) scale(0.10788,0.1)" font-size="63.0" text-anchor="end" font-weight="bold" fill="#0a0a0a">0</text>
<text transform="translate(25.60,582.76) scale(0.10788,0.1)" font-size="63.0" text-anchor="end" font-weight="bold" fill="#0a0a0a">500</text>
<text transform="translate(25.60,520.86) scale(0.10788,0.1)" font-size="63.0" text-anchor="end" font-weight="bold" fill="#0a0a0a">1000</text>
<text transform="translate(25.60,458.96) scale(0.10788,0.1)" font-size="63.0" text-anchor="end" font-weight="bold" fill="#0a0a0a">1500</text>
<text transform="translate(25.60,397.06) scale(0.10788,0.1)" font-size="63.0" text-anchor="end" font-weight="bold" fill="#0a0a0a">2000</text>
<text transform="translate(25.60,335.16) scale(0.10788,0.1)" font-size="63.0" text-anchor="end" font-weight="bold" fill="#0a0a0a">2500</text>
<text transform="translate(752.30,644.66) scale(0.10788,0.1)" font-size="63.0" text-anchor="start" font-weight="bold" fill="#0a0a0a">0</text>
<text transform="translate(752.30,533.04) scale(0.10788,0.1)" font-size="63.0" text-anchor="start" font-weight="bold" fill="#0a0a0a">500</text>
<text transform="translate(752.30,421.43) scale(0.10788,0.1)" font-size="63.0" text-anchor="start" font-weight="bold" fill="#0a0a0a">1000</text>
<text transform="translate(65.30,649.65) scale(0.11390,0.1)" font-size="60.0" text-anchor="middle" font-weight="bold" fill="#0a0a0a">Dec1,2019</text>
<text transform="translate(120.78,649.65) scale(0.11390,0.1)" font-size="60.0" text-anchor="middle" font-weight="bold" fill="#0a0a0a">Dec10,2019</text>
<text transform="translate(182.44,649.65) scale(0.11390,0.1)" font-size="60.0" text-anchor="middle" font-weight="bold" fill="#0a0a0a">Dec20,2019</text>
<text transform="translate(244.08,649.65) scale(0.11390,0.1)" font-size="60.0" text-anchor="middle" font-weight="bold" fill="#0a0a0a">Dec30,2019</text>
<text transform="translate(305.74,649.65) scale(0.11390,0.1)" font-size="60.0" text-anchor="middle" font-weight="bold" fill="#0a0a0a">Jan9,2020</text>
<text transform="translate(367.38,649.65) scale(0.11390,0.1)" font-size="60.0" text-anchor="middle" font-weight="bold" fill="#0a0a0a">Jan19,2020</text>
<text transform="translate(429.04,649.65) scale(0.11390,0.1)" font-size="60.0" text-anchor="middle" font-weight="bold" fill="#0a0a0a">Jan29,2020</text>
<text transform="translate(490.69,649.65) scale(0.11390,0.1)" font-size="60.0" text-anchor="middle" font-weight="bold" fill="#0a0a0a">Feb9,2020</text>
<text transform="translate(552.34,649.65) scale(0.11390,0.1)" font-size="60.0" text-anchor="middle" font-weight="bold" fill="#0a0a0a">Feb19,2020</text>
<text transform="translate(613.99,649.65) scale(0.11390,0.1)" font-size="60.0" text-anchor="middle" font-weight="bold" fill="#0a0a0a">Feb29,2020</text>
<text transform="translate(675.63,649.65) scale(0.11390,0.1)" font-size="60.0" text-anchor="middle" font-weight="bold" fill="#0a0a0a">Mar10,2020</text>
<text transform="translate(712.62,649.65) scale(0.11390,0.1)" font-size="60.0" text-anchor="middle" font-weight="bold" fill="#0a0a0a">Mar15,2020</text>
<path d="M27.2 642.10H30.2M27.2 580.20H30.2M27.2 518.30H30.2M27.2 456.40H30.2M27.2 394.50H30.2M27.2 332.60H30.2M747.7 642.10h2.6M747.7 530.49h2.6M747.7 418.88h2.6M65.30 642.1v1.8M120.78 642.1v1.8M182.44 642.1v1.8M244.08 642.1v1.8M305.74 642.1v1.8M367.38 642.1v1.8M429.04 642.1v1.8M490.69 642.1v1.8M552.34 642.1v1.8M613.99 642.1v1.8M675.63 642.1v1.8M712.62 642.1v1.8" fill="none" stroke="#1c1c1c" stroke-width="0.9"/>
<text transform="translate(389.30,657.81) scale(0.11597,0.1)" font-size="70.0" text-anchor="middle" font-weight="bold" fill="#0a0a0a">Time</text>
<rect x="61.1" y="347.1" width="12.30" height="9.70" fill="#8CBADA"/>
<text transform="translate(78.70,354.41) scale(0.11795,0.1)" font-size="59.0" text-anchor="start" fill="#0a0a0a">Number of COVID-19 Cases in Hubei(excluded Wuhan)</text>
<text transform="translate(60.80,378.52) scale(0.11219,0.1)" font-size="76.0" text-anchor="start" fill="#0a0a0a">Baidu Search Keywords</text>
<path d="M62 388.70H72.9" stroke="#E6D72A" stroke-width="1.1"/>
<text transform="translate(78.70,390.81) scale(0.11700,0.1)" font-size="59.0" text-anchor="start" fill="#0a0a0a">Avian Influenza</text>
<path d="M62 399.98H72.9" stroke="#E41A1C" stroke-width="1.1"/>
<text transform="translate(78.70,402.09) scale(0.11700,0.1)" font-size="59.0" text-anchor="start" fill="#0a0a0a">Coronavirus</text>
<path d="M62 411.26H72.9" stroke="#1F78B4" stroke-width="1.1"/>
<text transform="translate(78.70,413.37) scale(0.11700,0.1)" font-size="59.0" text-anchor="start" fill="#0a0a0a">COVID19</text>
<path d="M62 422.54H72.9" stroke="#D88FBB" stroke-width="1.1"/>
<text transform="translate(78.70,424.65) scale(0.11700,0.1)" font-size="59.0" text-anchor="start" fill="#0a0a0a">Influenza</text>
<path d="M62 433.82H72.9" stroke="#3DB7E9" stroke-width="1.1"/>
<text transform="translate(78.70,435.93) scale(0.11700,0.1)" font-size="59.0" text-anchor="start" fill="#0a0a0a">Mask</text>
<path d="M62 445.10H72.9" stroke="#8672C0" stroke-width="1.1"/>
<text transform="translate(78.70,447.21) scale(0.11700,0.1)" font-size="59.0" text-anchor="start" fill="#0a0a0a">MERS</text>
<path d="M62 456.38H72.9" stroke="#FF9E1B" stroke-width="1.1"/>
<text transform="translate(78.70,458.49) scale(0.11700,0.1)" font-size="59.0" text-anchor="start" fill="#0a0a0a">Pneumonia</text>
<path d="M62 467.66H72.9" stroke="#4DAF4A" stroke-width="1.1"/>
<text transform="translate(78.70,469.77) scale(0.11700,0.1)" font-size="59.0" text-anchor="start" fill="#0a0a0a">SARS</text>
<text transform="translate(4.40,486.70) rotate(-90) scale(0.10214,0.11500) translate(0,25.060)" font-size="70.0" text-anchor="middle" font-weight="bold" fill="#0a0a0a">Number of COVID-19 Cases in Hubei(excluded Wuhan)</text>
<text transform="translate(771.60,487.20) rotate(90) scale(0.10024,0.12200) translate(0,25.060)" font-size="70.0" text-anchor="middle" font-weight="bold" fill="#0a0a0a">Baidu search index(per million population)</text>
<path d="M297.27 974.50v-0.80h4.60v0.80zM303.44 974.50v-0.80h4.60v0.80zM309.60 974.50v-2.70h4.60v2.70zM315.76 974.50v-1.80h4.60v1.80zM321.93 974.50v-2.70h4.60v2.70zM328.10 974.50v-2.30h4.60v2.30zM334.26 974.50v-3.40h4.60v3.40zM340.43 974.50v-6.20h4.60v6.20zM346.59 974.50v-9.50h4.60v9.50zM352.75 974.50v-12.60h4.60v12.60zM358.92 974.50v-15.10h4.60v15.10zM365.08 974.50v-21.80h4.60v21.80zM371.25 974.50v-28.80h4.60v28.80zM377.42 974.50v-5.00h4.60v5.00zM383.58 974.50v-7.40h4.60v7.40zM389.75 974.50v-18.40h4.60v18.40zM395.91 974.50v-32.20h4.60v32.20zM402.07 974.50v-37.00h4.60v37.00zM408.24 974.50v-48.90h4.60v48.90zM414.41 974.50v-58.60h4.60v58.60zM420.57 974.50v-76.20h4.60v76.20zM426.74 974.50v-86.30h4.60v86.30zM432.90 974.50v-93.60h4.60v93.60zM439.06 974.50v-92.80h4.60v92.80zM445.23 974.50v-82.40h4.60v82.40zM451.39 974.50v-89.10h4.60v89.10zM457.56 974.50v-109.20h4.60v109.20zM463.73 974.50v-90.00h4.60v90.00zM469.89 974.50v-87.00h4.60v87.00zM476.06 974.50v-85.00h4.60v85.00zM482.22 974.50v-68.20h4.60v68.20zM488.38 974.50v-62.00h4.60v62.00zM494.55 974.50v-54.30h4.60v54.30zM500.71 974.50v-46.60h4.60v46.60zM506.88 974.50v-46.20h4.60v46.20zM513.05 974.50v-38.40h4.60v38.40zM519.21 974.50v-32.70h4.60v32.70zM525.38 974.50v-27.10h4.60v27.10zM531.54 974.50v-20.10h4.60v20.10zM537.71 974.50v-14.10h4.60v14.10zM543.87 974.50v-9.20h4.60v9.20zM550.04 974.50v-6.20h4.60v6.20zM556.20 974.50v-5.40h4.60v5.40zM562.37 974.50v-31.70h4.60v31.70zM568.53 974.50v-2.80h4.60v2.80zM574.70 974.50v-1.50h4.60v1.50zM580.86 974.50v-1.00h4.60v1.00zM587.02 974.50v-0.80h4.60v0.80z" fill="#8CBADA"/>
<polyline points="65.30,974.20 71.47,974.20 77.63,974.20 83.80,974.19 89.96,974.19 96.12,974.19 102.29,974.19 108.45,974.19 114.62,974.18 120.78,974.18 126.95,974.18 133.12,974.18 139.28,974.18 145.44,974.17 151.61,974.17 157.77,974.17 163.94,974.17 170.11,974.17 176.27,974.16 182.44,974.16 188.60,974.16 194.76,974.16 200.93,974.16 207.09,974.15 213.26,974.15 219.43,974.15 225.59,974.15 231.75,974.15 237.92,974.14 244.08,974.14 250.25,974.14 256.42,974.14 262.58,974.14 268.75,974.13 274.91,974.13 281.07,974.13 287.24,974.13 293.40,974.13 299.57,974.12 305.74,974.12 311.90,974.12 318.06,974.12 324.23,974.12 330.40,974.11 336.56,974.11 342.73,974.11 348.89,974.11 355.06,974.11 361.22,974.10 367.38,974.10 373.55,974.10 379.72,974.05 385.88,973.99 392.05,973.94 398.21,973.88 404.38,973.83 410.54,973.77 416.71,973.72 422.87,973.66 429.04,973.61 435.20,973.55 441.37,973.50 447.53,972.49 453.69,966.63 459.86,972.49 466.03,973.30 472.19,973.32 478.36,973.33 484.52,973.35 490.69,973.36 496.85,973.38 503.01,973.39 509.18,973.40 515.35,973.42 521.51,973.43 527.67,973.45 533.84,973.47 540.00,973.48 546.17,973.50 552.34,973.51 558.50,973.52 564.66,973.54 570.83,973.55 577.00,973.57 583.16,973.59 589.32,973.60 595.49,973.62 601.65,973.63 607.82,973.64 613.99,973.66 620.15,973.67 626.31,973.69 632.48,973.71 638.64,973.72 644.81,973.74 650.97,973.75 657.14,973.76 663.30,973.78 669.47,973.79 675.63,973.81 681.80,973.83 687.96,973.84 694.13,973.86 700.29,973.87 706.46,973.88 712.62,973.90" fill="none" stroke="#E6D72A" stroke-width="1.2" stroke-linejoin="round"/>
<polyline points="65.30,974.30 71.47,974.30 77.63,974.29 83.80,974.29 89.96,974.29 96.12,974.29 102.29,974.28 108.45,974.28 114.62,974.28 120.78,974.28 126.95,974.27 133.12,974.27 139.28,974.27 145.44,974.27 151.61,974.26 157.77,974.26 163.94,974.26 170.11,974.26 176.27,974.25 182.44,974.25 188.60,974.25 194.76,974.24 200.93,974.24 207.09,974.24 213.26,974.24 219.43,974.23 225.59,974.23 231.75,974.23 237.92,974.23 244.08,974.22 250.25,974.22 256.42,974.22 262.58,974.22 268.75,974.21 274.91,974.21 281.07,974.21 287.24,974.21 293.40,974.20 299.57,974.20 305.74,973.50 311.90,974.20 318.06,974.17 324.23,974.15 330.40,974.12 336.56,974.10 342.73,974.08 348.89,974.05 355.06,974.02 361.22,974.00 367.38,973.66 373.55,962.44 379.72,949.04 385.88,945.18 392.05,944.34 398.21,950.71 404.38,940.66 410.54,941.50 416.71,949.87 422.87,951.55 429.04,955.74 435.20,957.41 441.37,959.09 447.53,959.76 453.69,959.92 459.86,960.76 466.03,961.60 472.19,961.94 478.36,962.27 484.52,962.10 490.69,963.28 496.85,964.11 503.01,964.28 509.18,965.45 515.35,965.96 521.51,964.28 527.67,966.12 533.84,967.46 540.00,967.97 546.17,968.47 552.34,968.80 558.50,969.14 564.66,969.14 570.83,969.47 577.00,969.64 583.16,969.64 589.32,969.47 595.49,969.61 601.65,969.74 607.82,969.88 613.99,970.01 620.15,970.14 626.31,970.24 632.48,970.35 638.64,970.45 644.81,970.55 650.97,970.65 657.14,970.75 663.30,970.85 669.47,970.95 675.63,971.05 681.80,971.15 687.96,971.28 694.13,971.42 700.29,971.55 706.46,971.69 712.62,971.82" fill="none" stroke="#E41A1C" stroke-width="1.2" stroke-linejoin="round"/>
<polyline points="65.30,974.30 71.47,974.30 77.63,974.30 83.80,974.29 89.96,974.29 96.12,974.29 102.29,974.29 108.45,974.29 114.62,974.28 120.78,974.28 126.95,974.28 133.12,974.28 139.28,974.27 145.44,974.27 151.61,974.27 157.77,974.27 163.94,974.27 170.11,974.26 176.27,974.26 182.44,974.26 188.60,974.26 194.76,974.26 200.93,974.25 207.09,974.25 213.26,974.25 219.43,974.25 225.59,974.24 231.75,974.24 237.92,974.24 244.08,974.24 250.25,974.24 256.42,974.23 262.58,974.23 268.75,974.23 274.91,974.23 281.07,974.23 287.24,974.22 293.40,974.22 299.57,974.22 305.74,974.22 311.90,974.21 318.06,974.21 324.23,974.21 330.40,974.21 336.56,974.21 342.73,974.20 348.89,974.20 355.06,974.20 361.22,974.00 367.38,973.83 373.55,963.28 379.72,944.85 385.88,930.61 392.05,907.99 398.21,902.96 404.38,859.91 410.54,868.62 416.71,884.54 422.87,864.93 429.04,899.61 435.20,906.65 441.37,905.48 447.53,908.49 453.69,906.82 459.86,911.34 466.03,913.02 472.19,914.69 478.36,888.22 484.52,893.75 490.69,916.37 496.85,918.04 503.01,917.54 509.18,922.23 515.35,922.73 521.51,911.84 527.67,921.89 533.84,927.59 540.00,930.27 546.17,929.43 552.34,933.12 558.50,936.14 564.66,935.63 570.83,936.81 577.00,943.51 583.16,944.01 589.32,943.34 595.49,947.02 601.65,950.88 607.82,951.21 613.99,950.38 620.15,949.87 626.31,950.71 632.48,952.89 638.64,955.40 644.81,952.89 650.97,954.06 657.14,956.24 663.30,956.57 669.47,956.57 675.63,957.08 681.80,958.42 687.96,958.08 694.13,957.24 700.29,957.58 706.46,958.75 712.62,957.08" fill="none" stroke="#1F78B4" stroke-width="1.2" stroke-linejoin="round"/>
<polyline points="65.30,974.00 71.47,974.00 77.63,974.00 83.80,974.00 89.96,974.00 96.12,974.00 102.29,974.00 108.45,974.00 114.62,974.00 120.78,973.60 126.95,973.60 133.12,973.59 139.28,973.59 145.44,973.59 151.61,973.59 157.77,973.58 163.94,973.58 170.11,973.58 176.27,973.58 182.44,973.57 188.60,973.57 194.76,973.57 200.93,973.57 207.09,973.56 213.26,973.56 219.43,973.56 225.59,973.56 231.75,973.55 237.92,973.55 244.08,973.55 250.25,973.55 256.42,973.54 262.58,973.54 268.75,973.54 274.91,973.54 281.07,973.53 287.24,973.53 293.40,973.53 299.57,973.53 305.74,973.52 311.90,973.52 318.06,973.52 324.23,973.52 330.40,973.51 336.56,973.51 342.73,973.51 348.89,973.51 355.06,973.50 361.22,973.50 367.38,973.30 373.55,973.10 379.72,972.83 385.88,972.57 392.05,972.30 398.21,972.23 404.38,972.17 410.54,972.10 416.71,972.20 422.87,972.30 429.04,972.40 435.20,972.50 441.37,972.54 447.53,972.58 453.69,972.62 459.86,972.66 466.03,972.70 472.19,972.74 478.36,972.78 484.52,972.82 490.69,972.86 496.85,972.90 503.01,972.91 509.18,972.93 515.35,972.94 521.51,972.96 527.67,972.97 533.84,972.99 540.00,973.00 546.17,973.01 552.34,973.03 558.50,973.04 564.66,973.06 570.83,973.07 577.00,973.09 583.16,973.10 589.32,973.11 595.49,973.12 601.65,973.13 607.82,973.14 613.99,973.15 620.15,973.16 626.31,973.17 632.48,973.18 638.64,973.19 644.81,973.20 650.97,973.20 657.14,973.21 663.30,973.22 669.47,973.23 675.63,973.24 681.80,973.25 687.96,973.26 694.13,973.27 700.29,973.28 706.46,973.29 712.62,973.30" fill="none" stroke="#D88FBB" stroke-width="1.2" stroke-linejoin="round"/>
<polyline points="65.30,974.20 71.47,974.20 77.63,974.20 83.80,974.19 89.96,974.19 96.12,974.19 102.29,974.19 108.45,974.19 114.62,974.18 120.78,974.18 126.95,974.18 133.12,974.18 139.28,974.17 145.44,974.17 151.61,974.17 157.77,974.17 163.94,974.17 170.11,974.16 176.27,974.16 182.44,974.16 188.60,974.16 194.76,974.16 200.93,974.15 207.09,974.15 213.26,974.15 219.43,974.15 225.59,974.15 231.75,974.14 237.92,974.14 244.08,974.14 250.25,974.14 256.42,974.14 262.58,974.13 268.75,974.13 274.91,974.13 281.07,974.13 287.24,974.12 293.40,974.12 299.57,974.12 305.74,974.12 311.90,974.12 318.06,974.11 324.23,974.11 330.40,974.11 336.56,974.11 342.73,974.11 348.89,974.10 355.06,974.10 361.22,974.10 367.38,974.16 373.55,972.49 379.72,966.12 385.88,963.61 392.05,961.60 398.21,967.46 404.38,965.45 410.54,965.45 416.71,967.13 422.87,968.30 429.04,969.14 435.20,969.47 441.37,969.59 447.53,969.70 453.69,969.81 459.86,969.92 466.03,970.03 472.19,970.14 478.36,970.22 484.52,970.29 490.69,970.37 496.85,970.44 503.01,970.52 509.18,970.59 515.35,970.67 521.51,970.74 527.67,970.81 533.84,970.87 540.00,970.93 546.17,970.98 552.34,971.04 558.50,971.09 564.66,971.15 570.83,971.21 577.00,971.26 583.16,971.32 589.32,971.82 595.49,971.85 601.65,971.89 607.82,971.92 613.99,971.95 620.15,971.99 626.31,972.02 632.48,972.05 638.64,972.09 644.81,972.12 650.97,972.15 657.14,972.19 663.30,972.22 669.47,972.26 675.63,972.29 681.80,972.32 687.96,972.36 694.13,972.39 700.29,972.42 706.46,972.46 712.62,972.49" fill="none" stroke="#3DB7E9" stroke-width="1.2" stroke-linejoin="round"/>
<polyline points="65.30,974.30 71.47,974.30 77.63,974.30 83.80,974.30 89.96,974.30 96.12,974.30 102.29,974.30 108.45,974.30 114.62,974.30 120.78,974.30 126.95,974.30 133.12,974.30 139.28,974.30 145.44,974.30 151.61,974.30 157.77,974.30 163.94,974.30 170.11,974.30 176.27,974.30 182.44,974.30 188.60,974.30 194.76,974.30 200.93,974.30 207.09,974.30 213.26,974.30 219.43,974.30 225.59,974.30 231.75,974.30 237.92,974.30 244.08,974.30 250.25,974.30 256.42,974.30 262.58,974.30 268.75,974.30 274.91,974.30 281.07,974.30 287.24,974.30 293.40,974.30 299.57,974.30 305.74,974.30 311.90,974.30 318.06,974.30 324.23,974.30 330.40,974.30 336.56,974.30 342.73,974.30 348.89,974.30 355.06,974.30 361.22,974.30 367.38,974.30 373.55,974.10 379.72,973.90 385.88,973.70 392.05,973.67 398.21,973.65 404.38,973.62 410.54,973.60 416.71,973.67 422.87,973.75 429.04,973.83 435.20,973.90 441.37,973.90 447.53,973.91 453.69,973.91 459.86,973.92 466.03,973.92 472.19,973.93 478.36,973.93 484.52,973.94 490.69,973.94 496.85,973.94 503.01,973.95 509.18,973.95 515.35,973.96 521.51,973.96 527.67,973.97 533.84,973.97 540.00,973.98 546.17,973.98 552.34,973.98 558.50,973.99 564.66,973.99 570.83,974.00 577.00,974.00 583.16,974.01 589.32,974.01 595.49,974.02 601.65,974.02 607.82,974.02 613.99,974.03 620.15,974.03 626.31,974.04 632.48,974.04 638.64,974.05 644.81,974.05 650.97,974.06 657.14,974.06 663.30,974.06 669.47,974.07 675.63,974.07 681.80,974.08 687.96,974.08 694.13,974.09 700.29,974.09 706.46,974.10 712.62,974.10" fill="none" stroke="#8672C0" stroke-width="1.2" stroke-linejoin="round"/>
<polyline points="65.30,974.10 71.47,974.10 77.63,974.10 83.80,974.10 89.96,974.10 96.12,974.10 102.29,974.10 108.45,974.10 114.62,974.10 120.78,974.10 126.95,974.10 133.12,974.10 139.28,974.10 145.44,974.10 151.61,974.10 157.77,974.10 163.94,974.10 170.11,974.10 176.27,974.10 182.44,974.10 188.60,974.10 194.76,974.10 200.93,974.10 207.09,974.10 213.26,974.10 219.43,974.10 225.59,974.10 231.75,974.10 237.92,974.10 244.08,974.10 250.25,973.00 256.42,973.90 262.58,973.89 268.75,973.89 274.91,973.88 281.07,973.88 287.24,973.87 293.40,973.86 299.57,973.86 305.74,973.85 311.90,973.85 318.06,973.84 324.23,973.84 330.40,973.83 336.56,973.82 342.73,973.82 348.89,973.81 355.06,973.81 361.22,973.80 367.38,973.83 373.55,967.46 379.72,958.25 385.88,952.72 392.05,947.02 398.21,948.70 404.38,937.31 410.54,941.50 416.71,945.68 422.87,945.68 429.04,948.70 435.20,951.55 441.37,952.05 447.53,954.90 453.69,956.24 459.86,957.91 466.03,958.75 472.19,959.42 478.36,959.59 484.52,959.25 490.69,960.26 496.85,961.43 503.01,961.94 509.18,962.94 515.35,963.78 521.51,958.75 527.67,962.10 533.84,964.45 540.00,965.45 546.17,966.12 552.34,966.96 558.50,967.46 564.66,967.13 570.83,967.80 577.00,968.30 583.16,968.30 589.32,967.46 595.49,968.47 601.65,968.59 607.82,968.72 613.99,968.85 620.15,968.97 626.31,969.04 632.48,969.11 638.64,969.17 644.81,969.24 650.97,969.31 657.14,969.41 663.30,969.51 669.47,969.61 675.63,969.71 681.80,969.81 687.96,969.94 694.13,970.08 700.29,970.21 706.46,970.35 712.62,970.48" fill="none" stroke="#FF9E1B" stroke-width="1.2" stroke-linejoin="round"/>
<polyline points="65.30,974.10 71.47,974.10 77.63,974.10 83.80,974.10 89.96,974.10 96.12,974.10 102.29,974.10 108.45,974.10 114.62,974.10 120.78,974.10 126.95,974.10 133.12,974.10 139.28,974.10 145.44,974.10 151.61,974.10 157.77,974.10 163.94,974.10 170.11,974.10 176.27,974.10 182.44,974.10 188.60,974.10 194.76,974.10 200.93,974.10 207.09,974.10 213.26,974.10 219.43,974.10 225.59,974.10 231.75,974.10 237.92,974.10 244.08,974.16 250.25,957.91 256.42,972.15 262.58,973.33 268.75,973.83 274.91,973.84 281.07,973.85 287.24,973.86 293.40,973.87 299.57,973.89 305.74,973.90 311.90,973.91 318.06,973.92 324.23,973.93 330.40,973.94 336.56,973.95 342.73,973.96 348.89,973.98 355.06,973.99 361.22,974.00 367.38,973.66 373.55,960.76 379.72,935.63 385.88,930.94 392.05,930.61 398.21,947.36 404.38,924.74 410.54,941.50 416.71,954.56 422.87,952.72 429.04,957.41 435.20,961.60 441.37,963.28 447.53,965.45 453.69,965.45 459.86,965.79 466.03,967.80 472.19,968.64 478.36,968.80 484.52,967.80 490.69,968.80 496.85,968.64 503.01,969.47 509.18,970.48 515.35,970.81 521.51,971.09 527.67,971.37 533.84,971.65 540.00,971.78 546.17,971.90 552.34,972.03 558.50,972.15 564.66,972.24 570.83,972.32 577.00,972.41 583.16,972.49 589.32,973.33 595.49,973.34 601.65,973.34 607.82,973.35 613.99,973.36 620.15,973.37 626.31,973.38 632.48,973.39 638.64,973.39 644.81,973.40 650.97,973.41 657.14,973.42 663.30,973.43 669.47,973.44 675.63,973.44 681.80,973.45 687.96,973.46 694.13,973.47 700.29,973.48 706.46,973.49 712.62,973.49" fill="none" stroke="#4DAF4A" stroke-width="1.2" stroke-linejoin="round"/>
<path d="M30.2 666.5V974.5H747.7V666.5" fill="none" stroke="#1c1c1c" stroke-width="1.1"/>
<text transform="translate(25.60,977.06) scale(0.10788,0.1)" font-size="63.0" text-anchor="end" font-weight="bold" fill="#0a0a0a">0</text>
<text transform="translate(25.60,915.46) scale(0.10788,0.1)" font-size="63.0" text-anchor="end" font-weight="bold" fill="#0a0a0a">500</text>
<text transform="translate(25.60,853.86) scale(0.10788,0.1)" font-size="63.0" text-anchor="end" font-weight="bold" fill="#0a0a0a">1000</text>
<text transform="translate(25.60,792.26) scale(0.10788,0.1)" font-size="63.0" text-anchor="end" font-weight="bold" fill="#0a0a0a">1500</text>
<text transform="translate(25.60,730.66) scale(0.10788,0.1)" font-size="63.0" text-anchor="end" font-weight="bold" fill="#0a0a0a">2000</text>
<text transform="translate(25.60,669.06) scale(0.10788,0.1)" font-size="63.0" text-anchor="end" font-weight="bold" fill="#0a0a0a">2500</text>
<text transform="translate(752.30,977.06) scale(0.10788,0.1)" font-size="63.0" text-anchor="start" font-weight="bold" fill="#0a0a0a">0</text>
<text transform="translate(752.30,942.83) scale(0.10788,0.1)" font-size="63.0" text-anchor="start" font-weight="bold" fill="#0a0a0a">500</text>
<text transform="translate(752.30,908.61) scale(0.10788,0.1)" font-size="63.0" text-anchor="start" font-weight="bold" fill="#0a0a0a">1000</text>
<text transform="translate(752.30,874.39) scale(0.10788,0.1)" font-size="63.0" text-anchor="start" font-weight="bold" fill="#0a0a0a">1500</text>
<text transform="translate(752.30,840.17) scale(0.10788,0.1)" font-size="63.0" text-anchor="start" font-weight="bold" fill="#0a0a0a">2000</text>
<text transform="translate(752.30,805.94) scale(0.10788,0.1)" font-size="63.0" text-anchor="start" font-weight="bold" fill="#0a0a0a">2500</text>
<text transform="translate(752.30,771.72) scale(0.10788,0.1)" font-size="63.0" text-anchor="start" font-weight="bold" fill="#0a0a0a">3000</text>
<text transform="translate(752.30,737.50) scale(0.10788,0.1)" font-size="63.0" text-anchor="start" font-weight="bold" fill="#0a0a0a">3500</text>
<text transform="translate(752.30,703.28) scale(0.10788,0.1)" font-size="63.0" text-anchor="start" font-weight="bold" fill="#0a0a0a">4000</text>
<text transform="translate(752.30,669.06) scale(0.10788,0.1)" font-size="63.0" text-anchor="start" font-weight="bold" fill="#0a0a0a">4500</text>
<text transform="translate(65.30,982.05) scale(0.11390,0.1)" font-size="60.0" text-anchor="middle" font-weight="bold" fill="#0a0a0a">Dec1,2019</text>
<text transform="translate(120.78,982.05) scale(0.11390,0.1)" font-size="60.0" text-anchor="middle" font-weight="bold" fill="#0a0a0a">Dec10,2019</text>
<text transform="translate(182.44,982.05) scale(0.11390,0.1)" font-size="60.0" text-anchor="middle" font-weight="bold" fill="#0a0a0a">Dec20,2019</text>
<text transform="translate(244.08,982.05) scale(0.11390,0.1)" font-size="60.0" text-anchor="middle" font-weight="bold" fill="#0a0a0a">Dec30,2019</text>
<text transform="translate(305.74,982.05) scale(0.11390,0.1)" font-size="60.0" text-anchor="middle" font-weight="bold" fill="#0a0a0a">Jan9,2020</text>
<text transform="translate(367.38,982.05) scale(0.11390,0.1)" font-size="60.0" text-anchor="middle" font-weight="bold" fill="#0a0a0a">Jan19,2020</text>
<text transform="translate(429.04,982.05) scale(0.11390,0.1)" font-size="60.0" text-anchor="middle" font-weight="bold" fill="#0a0a0a">Jan29,2020</text>
<text transform="translate(490.69,982.05) scale(0.11390,0.1)" font-size="60.0" text-anchor="middle" font-weight="bold" fill="#0a0a0a">Feb9,2020</text>
<text transform="translate(552.34,982.05) scale(0.11390,0.1)" font-size="60.0" text-anchor="middle" font-weight="bold" fill="#0a0a0a">Feb19,2020</text>
<text transform="translate(613.99,982.05) scale(0.11390,0.1)" font-size="60.0" text-anchor="middle" font-weight="bold" fill="#0a0a0a">Feb29,2020</text>
<text transform="translate(675.63,982.05) scale(0.11390,0.1)" font-size="60.0" text-anchor="middle" font-weight="bold" fill="#0a0a0a">Mar10,2020</text>
<text transform="translate(712.62,982.05) scale(0.11390,0.1)" font-size="60.0" text-anchor="middle" font-weight="bold" fill="#0a0a0a">Mar15,2020</text>
<path d="M27.2 974.50H30.2M27.2 912.90H30.2M27.2 851.30H30.2M27.2 789.70H30.2M27.2 728.10H30.2M27.2 666.50H30.2M747.7 974.50h2.6M747.7 940.28h2.6M747.7 906.06h2.6M747.7 871.83h2.6M747.7 837.61h2.6M747.7 803.39h2.6M747.7 769.17h2.6M747.7 734.94h2.6M747.7 700.72h2.6M747.7 666.50h2.6M65.30 974.5v1.8M120.78 974.5v1.8M182.44 974.5v1.8M244.08 974.5v1.8M305.74 974.5v1.8M367.38 974.5v1.8M429.04 974.5v1.8M490.69 974.5v1.8M552.34 974.5v1.8M613.99 974.5v1.8M675.63 974.5v1.8M712.62 974.5v1.8" fill="none" stroke="#1c1c1c" stroke-width="0.9"/>
<text transform="translate(389.30,990.31) scale(0.11597,0.1)" font-size="70.0" text-anchor="middle" font-weight="bold" fill="#0a0a0a">Time</text>
<rect x="61" y="681.1" width="12.70" height="9.70" fill="#8CBADA"/>
<text transform="translate(78.70,688.21) scale(0.11812,0.1)" font-size="59.0" text-anchor="start" fill="#0a0a0a">Number of COVID-19 Cases in China(excluded Hubei)</text>
<text transform="translate(61.00,712.32) scale(0.11268,0.1)" font-size="76.0" text-anchor="start" fill="#0a0a0a">Baidu Search Keywords</text>
<path d="M62 722.00H72.9" stroke="#E6D72A" stroke-width="1.1"/>
<text transform="translate(78.70,724.11) scale(0.11700,0.1)" font-size="59.0" text-anchor="start" fill="#0a0a0a">Avian Influenza</text>
<path d="M62 733.28H72.9" stroke="#E41A1C" stroke-width="1.1"/>
<text transform="translate(78.70,735.39) scale(0.11700,0.1)" font-size="59.0" text-anchor="start" fill="#0a0a0a">Coronavirus</text>
<path d="M62 744.56H72.9" stroke="#1F78B4" stroke-width="1.1"/>
<text transform="translate(78.70,746.67) scale(0.11700,0.1)" font-size="59.0" text-anchor="start" fill="#0a0a0a">COVID19</text>
<path d="M62 755.84H72.9" stroke="#D88FBB" stroke-width="1.1"/>
<text transform="translate(78.70,757.95) scale(0.11700,0.1)" font-size="59.0" text-anchor="start" fill="#0a0a0a">Influenza</text>
<path d="M62 767.12H72.9" stroke="#3DB7E9" stroke-width="1.1"/>
<text transform="translate(78.70,769.23) scale(0.11700,0.1)" font-size="59.0" text-anchor="start" fill="#0a0a0a">Mask</text>
<path d="M62 778.40H72.9" stroke="#8672C0" stroke-width="1.1"/>
<text transform="translate(78.70,780.51) scale(0.11700,0.1)" font-size="59.0" text-anchor="start" fill="#0a0a0a">MERS</text>
<path d="M62 789.68H72.9" stroke="#FF9E1B" stroke-width="1.1"/>
<text transform="translate(78.70,791.79) scale(0.11700,0.1)" font-size="59.0" text-anchor="start" fill="#0a0a0a">Pneumonia</text>
<path d="M62 800.96H72.9" stroke="#4DAF4A" stroke-width="1.1"/>
<text transform="translate(78.70,803.07) scale(0.11700,0.1)" font-size="59.0" text-anchor="start" fill="#0a0a0a">SARS</text>
<text transform="translate(4.40,817.50) rotate(-90) scale(0.09724,0.11500) translate(0,25.060)" font-size="70.0" text-anchor="middle" font-weight="bold" fill="#0a0a0a">Number of COVID-19 Cases in China(exclued Hubei)</text>
<text transform="translate(771.60,820.60) rotate(90) scale(0.10024,0.12200) translate(0,25.060)" font-size="70.0" text-anchor="middle" font-weight="bold" fill="#0a0a0a">Baidu search index(per million population)</text>
</svg>
</body></html>
